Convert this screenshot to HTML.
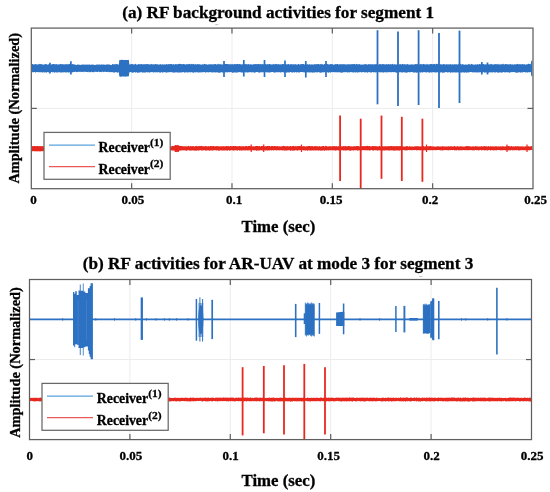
<!DOCTYPE html>
<html><head><meta charset="utf-8"><title>RF activities</title>
<style>
html,body{margin:0;padding:0;background:#fff;}
body{width:550px;height:492px;overflow:hidden;}
svg{display:block;}
svg text{font-family:'Liberation Serif', 'Times New Roman', serif;font-weight:bold;fill:#000;stroke:#000;stroke-width:0.3px;}
</style></head><body>
<svg width="550" height="492" viewBox="0 0 550 492">
<rect width="550" height="492" fill="#fff"/>
<line x1="131.64" y1="28.1" x2="131.64" y2="188.7" stroke="#ececec" stroke-width="1"/>
<line x1="231.98" y1="28.1" x2="231.98" y2="188.7" stroke="#ececec" stroke-width="1"/>
<line x1="332.32" y1="28.1" x2="332.32" y2="188.7" stroke="#ececec" stroke-width="1"/>
<line x1="432.66" y1="28.1" x2="432.66" y2="188.7" stroke="#ececec" stroke-width="1"/>
<line x1="31.3" y1="108.4" x2="533" y2="108.4" stroke="#ececec" stroke-width="1"/>
<polygon fill="#2d71c2" points="31.8,64.14 32.3,63.89 32.8,64 33.3,64.5 33.8,64.43 34.3,63.91 34.8,64.7 35.3,63.96 35.8,63.98 36.3,64.28 36.8,64.43 37.3,64.45 37.8,64.47 38.3,64.3 38.8,64.25 39.3,64.2 39.8,63.8 40.3,63.99 40.8,64.14 41.3,63.81 41.8,64.51 42.3,64.56 42.8,64.15 43.3,64.66 43.8,64.67 44.3,64.24 44.8,64.28 45.3,63.87 45.8,64.13 46.3,64.24 46.8,64.25 47.3,64.48 47.8,64.69 48.3,64.53 48.8,64.08 49.3,64.52 49.8,64.37 50.3,64.7 50.8,63.95 51.3,64.56 51.8,64.46 52.3,63.91 52.8,64.24 53.3,63.94 53.8,64.12 54.3,64.03 54.8,64.62 55.3,64.21 55.8,64.24 56.3,63.92 56.8,64.37 57.3,64.16 57.8,64.65 58.3,64.35 58.8,64.41 59.3,64.56 59.8,63.97 60.3,64.36 60.8,63.82 61.3,64.17 61.8,64.16 62.3,64.13 62.8,64.09 63.3,64.56 63.8,64.3 64.3,64.48 64.8,64.34 65.3,64.61 65.8,63.83 66.3,64.51 66.8,64.1 67.3,64.43 67.8,63.91 68.3,64.1 68.8,64.58 69.3,63.94 69.8,63.85 70.3,63.89 70.8,64.19 71.3,64.57 71.8,64.53 72.3,63.86 72.8,64.2 73.3,64.54 73.8,63.9 74.3,64.52 74.8,64.59 75.3,64.76 75.8,64.73 76.3,64.88 76.8,65.07 77.3,64.31 77.8,64.68 78.3,64.61 78.8,64.81 79.3,64.42 79.8,65.08 80.3,64.77 80.8,65.07 81.3,64.99 81.8,64.23 82.3,64.51 82.8,64.71 83.3,64.63 83.8,64.31 84.3,64.79 84.8,64.57 85.3,64.48 85.8,64.78 86.3,64.63 86.8,64.41 87.3,64.28 87.8,64.96 88.3,64.26 88.8,65.1 89.3,64.42 89.8,64.37 90.3,64.98 90.8,64.72 91.3,64.37 91.8,65.09 92.3,64.53 92.8,64.39 93.3,64.64 93.8,64.45 94.3,64.9 94.8,64.92 95.3,64.77 95.8,64.94 96.3,64.79 96.8,64.25 97.3,64.58 97.8,64.79 98.3,64.86 98.8,64.24 99.3,64.7 99.8,64.22 100.3,64.64 100.8,64.63 101.3,64.29 101.8,64.43 102.3,64.58 102.8,64.72 103.3,64.31 103.8,64.73 104.3,64.27 104.8,65.04 105.3,64.71 105.8,64.63 106.3,64.24 106.8,64.87 107.3,64.37 107.8,64.49 108.3,64.45 108.8,64.53 109.3,64.23 109.8,64.8 110.3,64.74 110.8,64.92 111.3,65.05 111.8,64.91 112.3,63.88 112.8,63.94 113.3,64.6 113.8,64.16 114.3,64.27 114.8,64.16 115.3,64.11 115.8,64.42 116.3,63.83 116.8,64.28 117.3,64.13 117.8,64.13 118.3,64.53 118.8,64.64 119.3,59.94 119.8,59.91 120.3,60.02 120.8,59.98 121.3,59.8 121.8,59.66 122.3,59.72 122.8,60.07 123.3,59.98 123.8,60.08 124.3,59.63 124.8,60.14 125.3,59.83 125.8,60.16 126.3,59.96 126.8,59.93 127.3,60.09 127.8,59.98 128.3,60 128.8,59.69 129.3,64.09 129.8,64.68 130.3,64.42 130.8,63.86 131.3,64.22 131.8,63.97 132.3,64.11 132.8,64.15 133.3,64.53 133.8,64.18 134.3,64.66 134.8,63.98 135.3,63.84 135.8,63.93 136.3,64.65 136.8,64.4 137.3,64.41 137.8,64.6 138.3,64.14 138.8,63.98 139.3,64.42 139.8,63.92 140.3,63.98 140.8,64.58 141.3,64.01 141.8,63.91 142.3,64.52 142.8,64.18 143.3,64.13 143.8,64.15 144.3,64.61 144.8,64.1 145.3,64.13 145.8,63.96 146.3,63.98 146.8,64.41 147.3,64.05 147.8,63.92 148.3,63.9 148.8,64.55 149.3,64.68 149.8,64.11 150.3,64.51 150.8,64.19 151.3,63.85 151.8,64.36 152.3,64.47 152.8,64.29 153.3,64.11 153.8,64.61 154.3,64.36 154.8,64.58 155.3,64.1 155.8,63.95 156.3,64.36 156.8,64.37 157.3,64.21 157.8,64.51 158.3,64.48 158.8,64.4 159.3,64.29 159.8,64.63 160.3,64.02 160.8,64.18 161.3,64.43 161.8,64.63 162.3,64.01 162.8,64.58 163.3,64.58 163.8,64.58 164.3,64.63 164.8,63.88 165.3,64.46 165.8,64.42 166.3,63.95 166.8,64.14 167.3,64.53 167.8,64.31 168.3,63.9 168.8,64.36 169.3,64.06 169.8,64.61 170.3,64.05 170.8,64 171.3,63.96 171.8,64.09 172.3,64.37 172.8,64.64 173.3,64.23 173.8,64.02 174.3,64.53 174.8,64.46 175.3,64.22 175.8,64.03 176.3,63.89 176.8,64.59 177.3,64.53 177.8,63.98 178.3,64.12 178.8,64.05 179.3,63.8 179.8,63.85 180.3,63.94 180.8,64 181.3,64.34 181.8,64.12 182.3,64.53 182.8,64.02 183.3,64.02 183.8,64.05 184.3,64.3 184.8,64.36 185.3,64.32 185.8,64.67 186.3,63.94 186.8,64.21 187.3,64.35 187.8,64.21 188.3,64.05 188.8,64.36 189.3,63.95 189.8,63.87 190.3,64.35 190.8,64.58 191.3,64.02 191.8,63.81 192.3,64.57 192.8,64.06 193.3,63.96 193.8,63.87 194.3,64.59 194.8,64.62 195.3,63.81 195.8,64.59 196.3,64.54 196.8,64.18 197.3,64.3 197.8,64.02 198.3,64.53 198.8,63.88 199.3,64.5 199.8,64.01 200.3,64.64 200.8,64.27 201.3,64.67 201.8,64.42 202.3,64.42 202.8,64.05 203.3,64.29 203.8,64.65 204.3,63.8 204.8,63.9 205.3,63.88 205.8,64.48 206.3,64.35 206.8,64.5 207.3,64.59 207.8,64.67 208.3,64.25 208.8,64.59 209.3,64.54 209.8,63.93 210.3,64.26 210.8,64.53 211.3,64.1 211.8,64.46 212.3,64.23 212.8,64.45 213.3,64.24 213.8,64.13 214.3,64.22 214.8,64.34 215.3,63.99 215.8,63.91 216.3,64.54 216.8,64.58 217.3,64.6 217.8,63.82 218.3,63.85 218.8,64.49 219.3,63.83 219.8,64.51 220.3,64.24 220.8,64.25 221.3,63.88 221.8,64.66 222.3,64.42 222.8,64.16 223.3,64.64 223.8,64.49 224.3,64.28 224.8,63.91 225.3,64.02 225.8,63.95 226.3,64.02 226.8,64.06 227.3,63.94 227.8,64.09 228.3,64.04 228.8,64.43 229.3,64.55 229.8,64.02 230.3,64.55 230.8,63.87 231.3,64.16 231.8,64.4 232.3,63.86 232.8,64.56 233.3,64.24 233.8,64.62 234.3,63.83 234.8,64.18 235.3,63.98 235.8,64.45 236.3,63.98 236.8,64.07 237.3,64.12 237.8,63.84 238.3,64.31 238.8,64.33 239.3,64.08 239.8,63.95 240.3,64.4 240.8,64.1 241.3,64.51 241.8,64.2 242.3,64.01 242.8,64.64 243.3,64.04 243.8,64.69 244.3,63.84 244.8,64.28 245.3,64.33 245.8,64.05 246.3,64.23 246.8,64.04 247.3,64.62 247.8,64.19 248.3,64.2 248.8,63.86 249.3,64.66 249.8,64.29 250.3,64.13 250.8,64.2 251.3,64.63 251.8,64.17 252.3,64.5 252.8,64.52 253.3,63.91 253.8,64.52 254.3,64.29 254.8,64.02 255.3,64.06 255.8,64.2 256.3,63.97 256.8,64.28 257.3,64.14 257.8,63.96 258.3,64.09 258.8,64.12 259.3,64.33 259.8,64.2 260.3,64.34 260.8,64.03 261.3,64.36 261.8,64.28 262.3,64.02 262.8,64.25 263.3,64.4 263.8,63.96 264.3,64.36 264.8,63.94 265.3,63.99 265.8,64.3 266.3,64.06 266.8,64.67 267.3,64.35 267.8,63.93 268.3,64.18 268.8,64.2 269.3,64.1 269.8,64.09 270.3,64.17 270.8,64.32 271.3,64.53 271.8,64.44 272.3,64.44 272.8,64.31 273.3,63.8 273.8,64.38 274.3,64.3 274.8,64.37 275.3,64.18 275.8,63.85 276.3,63.9 276.8,64.36 277.3,64.46 277.8,63.9 278.3,64.26 278.8,64.08 279.3,64.63 279.8,63.92 280.3,64.42 280.8,64.25 281.3,64.52 281.8,64.32 282.3,63.95 282.8,63.96 283.3,64.27 283.8,64.01 284.3,64.29 284.8,64.36 285.3,64.21 285.8,64.52 286.3,64.42 286.8,64.06 287.3,64.01 287.8,64.65 288.3,64.04 288.8,63.96 289.3,64.3 289.8,64.64 290.3,64.09 290.8,64.48 291.3,64.12 291.8,64.36 292.3,64.13 292.8,64.47 293.3,64.27 293.8,64.23 294.3,64.13 294.8,64.52 295.3,63.83 295.8,64.44 296.3,64.42 296.8,64.47 297.3,64.64 297.8,64.32 298.3,64.01 298.8,64.06 299.3,64.52 299.8,64.58 300.3,64.41 300.8,64.01 301.3,64.26 301.8,63.87 302.3,64.11 302.8,64.14 303.3,64.01 303.8,64.02 304.3,64.39 304.8,64.47 305.3,64.31 305.8,64.26 306.3,64.57 306.8,64.3 307.3,64.12 307.8,64.58 308.3,64.58 308.8,64.54 309.3,64.45 309.8,63.83 310.3,64.68 310.8,64.53 311.3,64.55 311.8,64.27 312.3,64.69 312.8,64.29 313.3,64.55 313.8,64.46 314.3,63.99 314.8,64.53 315.3,64.14 315.8,64.33 316.3,64.32 316.8,63.96 317.3,64.56 317.8,63.87 318.3,63.9 318.8,64.1 319.3,64.66 319.8,64.1 320.3,64.16 320.8,64.01 321.3,64.51 321.8,63.84 322.3,63.9 322.8,64.6 323.3,64.42 323.8,64.67 324.3,63.95 324.8,63.88 325.3,63.81 325.8,64.15 326.3,64.1 326.8,64.09 327.3,64.19 327.8,63.84 328.3,64.15 328.8,64.4 329.3,64.24 329.8,64.68 330.3,64.05 330.8,64.08 331.3,64.32 331.8,63.93 332.3,64.02 332.8,64.4 333.3,64.63 333.8,64.58 334.3,64.53 334.8,64.43 335.3,64.3 335.8,63.86 336.3,64.45 336.8,63.89 337.3,64.09 337.8,63.93 338.3,64.34 338.8,64.7 339.3,63.99 339.8,64.48 340.3,64.57 340.8,63.98 341.3,64.08 341.8,64.51 342.3,64.46 342.8,63.85 343.3,64.46 343.8,64.07 344.3,64.58 344.8,63.97 345.3,64.59 345.8,64.24 346.3,64.67 346.8,64.2 347.3,63.94 347.8,64.62 348.3,64.45 348.8,64.01 349.3,64.15 349.8,64.42 350.3,64.13 350.8,64.29 351.3,63.92 351.8,64.44 352.3,64.02 352.8,64.13 353.3,64.03 353.8,64.36 354.3,64.05 354.8,64.07 355.3,64.35 355.8,64.68 356.3,63.83 356.8,64.06 357.3,64.52 357.8,64.04 358.3,64.45 358.8,64.28 359.3,63.93 359.8,64.3 360.3,64.44 360.8,64.43 361.3,64.63 361.8,64.5 362.3,64.46 362.8,64.54 363.3,64.64 363.8,64.28 364.3,64.51 364.8,64.04 365.3,63.87 365.8,64.45 366.3,64.18 366.8,64.24 367.3,64.63 367.8,64.59 368.3,63.9 368.8,64.27 369.3,63.98 369.8,64.64 370.3,64.16 370.8,63.92 371.3,63.92 371.8,64.69 372.3,64.23 372.8,64.37 373.3,64.02 373.8,64.63 374.3,64.46 374.8,63.97 375.3,64.28 375.8,64.29 376.3,63.83 376.8,64.41 377.3,64.66 377.8,64.35 378.3,64.56 378.8,64.63 379.3,64.19 379.8,63.84 380.3,64.18 380.8,64.12 381.3,64.41 381.8,64.19 382.3,64.02 382.8,64.17 383.3,63.98 383.8,64.2 384.3,64.52 384.8,64.18 385.3,64.26 385.8,64.55 386.3,64.14 386.8,63.96 387.3,64.58 387.8,64.21 388.3,64.04 388.8,64.34 389.3,64.46 389.8,64.36 390.3,64.21 390.8,64.08 391.3,64.2 391.8,64.6 392.3,63.96 392.8,63.87 393.3,64.61 393.8,64.48 394.3,64.54 394.8,63.94 395.3,63.88 395.8,64.66 396.3,64.4 396.8,64.53 397.3,64.28 397.8,63.87 398.3,64.64 398.8,64.55 399.3,64.26 399.8,64.23 400.3,64.03 400.8,64.31 401.3,64.57 401.8,64.38 402.3,63.82 402.8,64.02 403.3,64.6 403.8,63.97 404.3,64.42 404.8,64 405.3,64.69 405.8,63.92 406.3,64.55 406.8,64.29 407.3,64.1 407.8,64.24 408.3,64.55 408.8,64.57 409.3,64.44 409.8,64.65 410.3,64.51 410.8,64.58 411.3,64.28 411.8,64.38 412.3,64.17 412.8,64.45 413.3,64.67 413.8,64.4 414.3,64.02 414.8,64.47 415.3,64.34 415.8,64.02 416.3,64.33 416.8,63.9 417.3,63.87 417.8,64.42 418.3,64.04 418.8,64.47 419.3,64.57 419.8,64.31 420.3,64.16 420.8,63.86 421.3,64.57 421.8,64.06 422.3,64.27 422.8,64.58 423.3,63.82 423.8,64.07 424.3,64.58 424.8,63.88 425.3,64.61 425.8,64.62 426.3,64.4 426.8,63.86 427.3,64.67 427.8,63.87 428.3,64.15 428.8,64.64 429.3,64.19 429.8,64.29 430.3,64.19 430.8,64.04 431.3,64.09 431.8,63.8 432.3,64.56 432.8,63.97 433.3,64.33 433.8,64 434.3,63.9 434.8,63.81 435.3,64.46 435.8,64.29 436.3,63.85 436.8,63.85 437.3,64.36 437.8,63.85 438.3,64.33 438.8,64.36 439.3,64.02 439.8,64.28 440.3,64.3 440.8,64.35 441.3,64.31 441.8,64.57 442.3,64.65 442.8,64.02 443.3,64.19 443.8,64.1 444.3,63.98 444.8,64.49 445.3,64.49 445.8,64.45 446.3,64.43 446.8,64.02 447.3,64.36 447.8,64.41 448.3,64.13 448.8,64.53 449.3,64.6 449.8,64.07 450.3,64.02 450.8,64.43 451.3,64.13 451.8,64.67 452.3,64.34 452.8,64.18 453.3,64.47 453.8,64.39 454.3,64.15 454.8,64.17 455.3,64.56 455.8,64.06 456.3,64.63 456.8,63.83 457.3,64.52 457.8,64.47 458.3,64.52 458.8,63.81 459.3,64.44 459.8,64.16 460.3,63.81 460.8,63.84 461.3,64.66 461.8,64.23 462.3,64.16 462.8,64.07 463.3,64.4 463.8,64.4 464.3,64.7 464.8,64.67 465.3,64.2 465.8,64.63 466.3,64.52 466.8,64.4 467.3,64.64 467.8,64.67 468.3,63.87 468.8,64.31 469.3,64.52 469.8,64.06 470.3,64.69 470.8,64.48 471.3,63.84 471.8,63.89 472.3,64.13 472.8,64.62 473.3,64.41 473.8,64.67 474.3,64.5 474.8,64.68 475.3,64.59 475.8,64.13 476.3,64.61 476.8,64.56 477.3,63.89 477.8,64.4 478.3,64.4 478.8,64.62 479.3,63.98 479.8,64.09 480.3,64.21 480.8,64.14 481.3,64.61 481.8,64.47 482.3,64.17 482.8,63.84 483.3,63.96 483.8,64.12 484.3,64.23 484.8,64.69 485.3,63.9 485.8,64.64 486.3,64.58 486.8,64.08 487.3,63.97 487.8,63.99 488.3,64.29 488.8,64.54 489.3,64.67 489.8,63.93 490.3,63.82 490.8,64.48 491.3,63.92 491.8,64.34 492.3,64.42 492.8,64.25 493.3,64.69 493.8,64.3 494.3,64.52 494.8,64.06 495.3,64.25 495.8,63.92 496.3,63.89 496.8,64.41 497.3,64.45 497.8,63.85 498.3,64.25 498.8,64.61 499.3,64.66 499.8,63.81 500.3,64.18 500.8,64.65 501.3,64.24 501.8,64.25 502.3,64.31 502.8,63.84 503.3,63.85 503.8,64.59 504.3,64.56 504.8,64.33 505.3,63.95 505.8,64.14 506.3,64.04 506.8,64.18 507.3,64.51 507.8,63.96 508.3,64.69 508.8,64.07 509.3,64.53 509.8,64.28 510.3,63.82 510.8,64.21 511.3,64.65 511.8,64.31 512.3,64.11 512.8,64.65 513.3,64.47 513.8,64.68 514.3,64.21 514.8,64.36 515.3,64.25 515.8,64.43 516.3,64.11 516.8,64.54 517.3,63.88 517.8,63.84 518.3,64.26 518.8,64.28 519.3,63.93 519.8,64.44 520.3,63.98 520.8,64.44 521.3,64.05 521.8,64.4 522.3,64.16 522.8,63.87 523.3,64.65 523.8,63.97 524.3,64.21 524.8,64.36 525.3,64.38 525.8,64.64 526.3,64.47 526.8,64.14 527.3,64.61 527.8,64.1 528.3,63.83 528.8,63.82 529.3,63.9 529.8,63.97 530.3,64.54 530.8,63.83 531.3,60.72 531.8,60.64 532.3,60.61 532.3,76.4 531.8,75.89 531.3,76.21 530.8,72.11 530.3,71.96 529.8,72.01 529.3,72.67 528.8,72.1 528.3,72.24 527.8,72.6 527.3,72.53 526.8,72.42 526.3,72.17 525.8,71.92 525.3,72.75 524.8,72.13 524.3,72.06 523.8,72.11 523.3,71.92 522.8,72.65 522.3,72.18 521.8,72.61 521.3,72.36 520.8,72.44 520.3,72.78 519.8,72.37 519.3,72.16 518.8,72.62 518.3,72.3 517.8,72.71 517.3,72.47 516.8,72.7 516.3,72.78 515.8,72.49 515.3,72.53 514.8,72.32 514.3,71.96 513.8,72.24 513.3,72.05 512.8,72.11 512.3,72.35 511.8,72.06 511.3,72.3 510.8,72.23 510.3,72.35 509.8,72.68 509.3,72.72 508.8,72.62 508.3,72.13 507.8,72.03 507.3,72.57 506.8,72.58 506.3,72.03 505.8,72.35 505.3,72.43 504.8,72.17 504.3,72.59 503.8,72.05 503.3,72.01 502.8,72.72 502.3,72.33 501.8,72.71 501.3,72.6 500.8,72.25 500.3,72.47 499.8,72.57 499.3,72.13 498.8,72.69 498.3,72.69 497.8,72.49 497.3,72.4 496.8,72.17 496.3,72.12 495.8,72.64 495.3,72.14 494.8,72.67 494.3,72.34 493.8,72.16 493.3,71.93 492.8,72.64 492.3,72.32 491.8,72.17 491.3,72.58 490.8,72.32 490.3,72.59 489.8,71.96 489.3,72.73 488.8,72.56 488.3,72.64 487.8,72.71 487.3,72.4 486.8,72.41 486.3,72.25 485.8,72.44 485.3,72.48 484.8,72.73 484.3,72.57 483.8,72.37 483.3,71.98 482.8,72.72 482.3,72.47 481.8,72.63 481.3,72.58 480.8,72.12 480.3,72.35 479.8,72.77 479.3,71.98 478.8,72.52 478.3,72.37 477.8,72.14 477.3,72.71 476.8,72.4 476.3,72.28 475.8,72.44 475.3,72.32 474.8,72.58 474.3,72.22 473.8,72.16 473.3,72.41 472.8,72.28 472.3,72.59 471.8,72 471.3,72.2 470.8,72.11 470.3,71.91 469.8,72.2 469.3,72.27 468.8,72.22 468.3,72.69 467.8,72.61 467.3,72.14 466.8,72.72 466.3,72.52 465.8,72.64 465.3,71.94 464.8,72.38 464.3,72.64 463.8,72.54 463.3,72.29 462.8,72.64 462.3,72.01 461.8,72.38 461.3,72.75 460.8,71.93 460.3,72.77 459.8,72.79 459.3,72 458.8,72.38 458.3,72.45 457.8,72.38 457.3,72.2 456.8,72.48 456.3,72.57 455.8,72.25 455.3,72.71 454.8,72.32 454.3,72.6 453.8,72.62 453.3,72.22 452.8,72.65 452.3,72.32 451.8,72.2 451.3,72.56 450.8,72.7 450.3,72.65 449.8,72.16 449.3,72.12 448.8,72.75 448.3,71.92 447.8,72.6 447.3,72.55 446.8,72.3 446.3,71.98 445.8,72.09 445.3,72.37 444.8,72.15 444.3,72.78 443.8,72.54 443.3,72.78 442.8,72.65 442.3,72.63 441.8,72.56 441.3,72 440.8,72.63 440.3,72.17 439.8,72.75 439.3,72.42 438.8,72.21 438.3,72.77 437.8,72.21 437.3,72.15 436.8,72.34 436.3,72.52 435.8,72.22 435.3,72.7 434.8,72.71 434.3,72.06 433.8,72.16 433.3,72.12 432.8,72.25 432.3,72.18 431.8,72.52 431.3,72.4 430.8,72.43 430.3,72.03 429.8,72.65 429.3,72.74 428.8,71.99 428.3,72.64 427.8,72.17 427.3,71.91 426.8,72.77 426.3,72.31 425.8,72.1 425.3,72.79 424.8,72.21 424.3,71.94 423.8,72.08 423.3,72.21 422.8,72.73 422.3,72.18 421.8,72.41 421.3,72.11 420.8,72.5 420.3,72.68 419.8,71.98 419.3,72.21 418.8,72.75 418.3,72.71 417.8,72.22 417.3,72.46 416.8,72.74 416.3,72.66 415.8,72.19 415.3,72.62 414.8,72.66 414.3,72.23 413.8,72.52 413.3,72.71 412.8,71.97 412.3,72.35 411.8,71.91 411.3,72.08 410.8,72.19 410.3,71.91 409.8,72.76 409.3,71.96 408.8,72.31 408.3,71.93 407.8,72.11 407.3,72.64 406.8,72.71 406.3,72.75 405.8,72.7 405.3,72.25 404.8,71.99 404.3,72.7 403.8,71.98 403.3,72.44 402.8,72.27 402.3,72.74 401.8,72.15 401.3,72.43 400.8,72.5 400.3,72.08 399.8,71.96 399.3,72.76 398.8,72.12 398.3,72.27 397.8,72.31 397.3,72.29 396.8,72.67 396.3,72.77 395.8,72.51 395.3,72.35 394.8,72.24 394.3,72.12 393.8,72.18 393.3,72.37 392.8,72.08 392.3,72 391.8,72.6 391.3,72.12 390.8,72.14 390.3,72.17 389.8,72.04 389.3,72.27 388.8,72.31 388.3,72.34 387.8,72.35 387.3,72.32 386.8,72.6 386.3,72.33 385.8,72.35 385.3,72.43 384.8,71.98 384.3,72.13 383.8,72.65 383.3,72.56 382.8,72.08 382.3,72.69 381.8,72.05 381.3,72.53 380.8,72.08 380.3,72.66 379.8,72.04 379.3,72.48 378.8,72.27 378.3,71.94 377.8,72.1 377.3,72.79 376.8,72.16 376.3,72.14 375.8,71.92 375.3,72.66 374.8,72.3 374.3,72.25 373.8,72.53 373.3,72.36 372.8,72.11 372.3,71.92 371.8,72.51 371.3,72.58 370.8,72.6 370.3,72.5 369.8,72.05 369.3,72.24 368.8,72.28 368.3,72.07 367.8,72.74 367.3,72.71 366.8,71.95 366.3,72.22 365.8,72.38 365.3,72.16 364.8,72.78 364.3,71.91 363.8,72.08 363.3,72.31 362.8,71.93 362.3,72.29 361.8,72.6 361.3,72.23 360.8,72.14 360.3,72.12 359.8,72.37 359.3,72.37 358.8,72.29 358.3,72.15 357.8,72.42 357.3,72.75 356.8,71.96 356.3,72.55 355.8,72.56 355.3,72.54 354.8,72.12 354.3,72.52 353.8,72.38 353.3,72.49 352.8,72.21 352.3,72.38 351.8,72.05 351.3,72.32 350.8,72.14 350.3,72.07 349.8,71.93 349.3,72.65 348.8,72.48 348.3,72.02 347.8,72.6 347.3,72.57 346.8,72.49 346.3,71.92 345.8,72.26 345.3,72.01 344.8,72.13 344.3,72.13 343.8,72.53 343.3,72.04 342.8,72.55 342.3,72.5 341.8,72.63 341.3,72.66 340.8,72.58 340.3,72.54 339.8,72.31 339.3,72.36 338.8,72.62 338.3,72.08 337.8,72.35 337.3,72.46 336.8,72.24 336.3,72.2 335.8,72.25 335.3,72.16 334.8,72.3 334.3,72.27 333.8,71.95 333.3,72.2 332.8,72.24 332.3,72.09 331.8,72.04 331.3,72.36 330.8,72.58 330.3,72.69 329.8,72.1 329.3,72.4 328.8,72.47 328.3,72.67 327.8,72.71 327.3,72.11 326.8,71.91 326.3,72.55 325.8,72.19 325.3,72.18 324.8,71.97 324.3,72.15 323.8,72.65 323.3,71.9 322.8,72.24 322.3,72.14 321.8,72.51 321.3,72.56 320.8,72.77 320.3,72.75 319.8,72.76 319.3,72.32 318.8,72.25 318.3,72.05 317.8,72.03 317.3,72.65 316.8,72.59 316.3,72.2 315.8,72.33 315.3,72.14 314.8,72.32 314.3,72.66 313.8,72.34 313.3,72.68 312.8,72.62 312.3,72.67 311.8,72.49 311.3,72.17 310.8,72.7 310.3,71.92 309.8,72.19 309.3,72.64 308.8,72.67 308.3,72.1 307.8,72.39 307.3,72.14 306.8,72.3 306.3,72.38 305.8,72.63 305.3,71.99 304.8,71.92 304.3,72.64 303.8,72.23 303.3,72.19 302.8,72.27 302.3,72.08 301.8,72.07 301.3,71.96 300.8,72.11 300.3,71.97 299.8,72.38 299.3,72.55 298.8,72.32 298.3,72.77 297.8,72.07 297.3,72.31 296.8,72.52 296.3,72.47 295.8,72.26 295.3,71.96 294.8,72.5 294.3,72.62 293.8,72.23 293.3,71.96 292.8,72.79 292.3,72.46 291.8,72.67 291.3,72.02 290.8,71.9 290.3,72.07 289.8,72.21 289.3,72.68 288.8,72.47 288.3,72.22 287.8,72.21 287.3,72.44 286.8,72.73 286.3,72.62 285.8,72.17 285.3,71.93 284.8,72.51 284.3,72.79 283.8,72.58 283.3,72.15 282.8,72.18 282.3,72.06 281.8,71.99 281.3,72.55 280.8,72.48 280.3,72.51 279.8,72.33 279.3,72.15 278.8,71.97 278.3,72.59 277.8,72.28 277.3,72.16 276.8,72.3 276.3,72.25 275.8,72.18 275.3,72.53 274.8,72.67 274.3,72.57 273.8,72.76 273.3,72.12 272.8,72.08 272.3,71.99 271.8,72.11 271.3,72.35 270.8,71.96 270.3,72.62 269.8,72.79 269.3,72.51 268.8,72.31 268.3,72.38 267.8,72.34 267.3,72.6 266.8,72.13 266.3,72.54 265.8,71.91 265.3,72.32 264.8,72.49 264.3,71.99 263.8,72.07 263.3,72.2 262.8,72.75 262.3,71.94 261.8,72.04 261.3,72.4 260.8,72.03 260.3,72.55 259.8,72.79 259.3,72.38 258.8,72.73 258.3,72.27 257.8,72.21 257.3,71.99 256.8,72 256.3,72.08 255.8,72.29 255.3,72.48 254.8,72.67 254.3,72.77 253.8,72.02 253.3,72.75 252.8,72.11 252.3,72.2 251.8,72.79 251.3,72.17 250.8,72.18 250.3,72.08 249.8,72.36 249.3,72.22 248.8,72.3 248.3,72.62 247.8,72.36 247.3,72.68 246.8,72.58 246.3,71.98 245.8,72.76 245.3,72.25 244.8,71.98 244.3,72.36 243.8,72.1 243.3,72.79 242.8,72.51 242.3,72.51 241.8,72.67 241.3,72.28 240.8,72.23 240.3,72.34 239.8,72.04 239.3,72.19 238.8,72.2 238.3,72.37 237.8,72.51 237.3,72.17 236.8,72.65 236.3,72.53 235.8,72.57 235.3,72.56 234.8,72.64 234.3,72.07 233.8,72.48 233.3,72.66 232.8,72.75 232.3,72.64 231.8,72.62 231.3,72.11 230.8,72.32 230.3,71.98 229.8,72.07 229.3,72.57 228.8,72.26 228.3,72.07 227.8,72.32 227.3,72.51 226.8,72.49 226.3,72.11 225.8,72.62 225.3,72.3 224.8,72.53 224.3,71.92 223.8,72.26 223.3,72.17 222.8,72.73 222.3,72.46 221.8,72.23 221.3,72.1 220.8,72.48 220.3,72.57 219.8,72.79 219.3,72.68 218.8,72.45 218.3,72.79 217.8,72.64 217.3,72.16 216.8,72.02 216.3,72.57 215.8,72.64 215.3,72.16 214.8,72.29 214.3,72.42 213.8,72.03 213.3,72.61 212.8,72.23 212.3,72.79 211.8,72.54 211.3,72.15 210.8,72.19 210.3,72.01 209.8,72.35 209.3,72.23 208.8,72.01 208.3,72.7 207.8,72.01 207.3,72.46 206.8,71.99 206.3,72.22 205.8,72.7 205.3,72.49 204.8,71.97 204.3,72.25 203.8,72.1 203.3,72.35 202.8,71.92 202.3,72.41 201.8,72.31 201.3,72.45 200.8,72.21 200.3,72.51 199.8,72.25 199.3,72.51 198.8,72.47 198.3,72.53 197.8,72.38 197.3,72.34 196.8,72.19 196.3,72.24 195.8,72.53 195.3,72.14 194.8,72.59 194.3,71.95 193.8,72.7 193.3,72.73 192.8,72.46 192.3,72.39 191.8,71.98 191.3,72.23 190.8,72.57 190.3,72.32 189.8,72.55 189.3,72.1 188.8,72.3 188.3,72.46 187.8,72.42 187.3,72.5 186.8,71.98 186.3,72.49 185.8,72.19 185.3,72.5 184.8,72.63 184.3,72.61 183.8,71.96 183.3,72.08 182.8,72.51 182.3,72.36 181.8,72.14 181.3,72.54 180.8,72.19 180.3,72.68 179.8,72.47 179.3,72.62 178.8,72.5 178.3,72.77 177.8,72.02 177.3,72.76 176.8,72.49 176.3,72.3 175.8,72.4 175.3,72.22 174.8,72.71 174.3,72.46 173.8,72.21 173.3,72.66 172.8,72.65 172.3,72.16 171.8,72.3 171.3,72.03 170.8,72.12 170.3,72.15 169.8,72.34 169.3,72.23 168.8,72.27 168.3,72.32 167.8,72.54 167.3,72.25 166.8,72.52 166.3,72.79 165.8,72.45 165.3,72.37 164.8,72.31 164.3,72.06 163.8,72.6 163.3,71.92 162.8,72.78 162.3,72.54 161.8,71.97 161.3,72.21 160.8,72.56 160.3,72.74 159.8,72.55 159.3,72.39 158.8,72.27 158.3,72.05 157.8,72.75 157.3,71.95 156.8,72.38 156.3,72.01 155.8,72.71 155.3,72.11 154.8,71.94 154.3,72.45 153.8,72.49 153.3,72.56 152.8,72.35 152.3,71.95 151.8,72.35 151.3,71.98 150.8,71.94 150.3,72.56 149.8,72.5 149.3,72.44 148.8,72.7 148.3,71.91 147.8,72.07 147.3,72.72 146.8,72.01 146.3,72.19 145.8,72.23 145.3,72.72 144.8,72.8 144.3,72.16 143.8,72.75 143.3,72.37 142.8,72.4 142.3,72.8 141.8,72.25 141.3,72.02 140.8,72.55 140.3,71.99 139.8,72.22 139.3,72.66 138.8,72.68 138.3,72.54 137.8,72.77 137.3,72.73 136.8,72.53 136.3,71.95 135.8,72.59 135.3,72.77 134.8,72.25 134.3,71.9 133.8,72.13 133.3,72.74 132.8,72.7 132.3,72.71 131.8,72.16 131.3,72.54 130.8,71.98 130.3,72.09 129.8,71.98 129.3,72.73 128.8,76.46 128.3,76.21 127.8,76.3 127.3,76.78 126.8,76.33 126.3,76.56 125.8,76.67 125.3,76.67 124.8,76.49 124.3,76.61 123.8,76.2 123.3,76.79 122.8,76.73 122.3,76.34 121.8,76.64 121.3,76.51 120.8,76.72 120.3,76.75 119.8,76.59 119.3,76.44 118.8,72.02 118.3,72.17 117.8,72.69 117.3,72.77 116.8,71.96 116.3,72.61 115.8,71.98 115.3,72.36 114.8,72.45 114.3,72.66 113.8,72.17 113.3,72.65 112.8,72.01 112.3,72.15 111.8,72.37 111.3,71.94 110.8,72.23 110.3,71.92 109.8,72.14 109.3,72.3 108.8,72.05 108.3,71.87 107.8,71.8 107.3,72.36 106.8,72.03 106.3,72.02 105.8,71.85 105.3,71.9 104.8,71.55 104.3,72.04 103.8,72.29 103.3,71.92 102.8,71.58 102.3,71.76 101.8,72.09 101.3,72.18 100.8,71.96 100.3,71.99 99.8,72.24 99.3,71.83 98.8,71.67 98.3,71.51 97.8,72.34 97.3,72.07 96.8,72.03 96.3,71.79 95.8,71.74 95.3,71.68 94.8,72.14 94.3,71.55 93.8,72.28 93.3,72.21 92.8,72.3 92.3,72.02 91.8,72.29 91.3,71.59 90.8,72.19 90.3,71.91 89.8,72.39 89.3,72.03 88.8,71.55 88.3,72.27 87.8,72.17 87.3,71.99 86.8,71.77 86.3,71.96 85.8,71.63 85.3,71.9 84.8,72.18 84.3,71.61 83.8,71.57 83.3,72.31 82.8,71.76 82.3,72.2 81.8,71.76 81.3,72.09 80.8,72.28 80.3,71.61 79.8,72.36 79.3,71.83 78.8,71.51 78.3,72.01 77.8,71.8 77.3,72.34 76.8,72.24 76.3,72.04 75.8,71.77 75.3,71.83 74.8,71.67 74.3,71.99 73.8,71.94 73.3,72.35 72.8,71.97 72.3,72.44 71.8,72.8 71.3,71.93 70.8,72.75 70.3,72.74 69.8,72.27 69.3,72.53 68.8,72.18 68.3,72.73 67.8,72.16 67.3,72.32 66.8,72.32 66.3,72.69 65.8,72.36 65.3,72.55 64.8,72.48 64.3,72.06 63.8,72.6 63.3,72.27 62.8,72.28 62.3,72.55 61.8,72.79 61.3,72.13 60.8,72.56 60.3,72.59 59.8,72.41 59.3,72 58.8,72.36 58.3,72.25 57.8,72.68 57.3,72.29 56.8,72.47 56.3,72.39 55.8,72.02 55.3,72.41 54.8,72.62 54.3,72.63 53.8,72 53.3,72.19 52.8,72.43 52.3,72.32 51.8,71.98 51.3,72.09 50.8,72.05 50.3,71.91 49.8,72.76 49.3,72.17 48.8,71.93 48.3,72.79 47.8,72.02 47.3,71.98 46.8,72.51 46.3,72.69 45.8,72.35 45.3,72.25 44.8,72.7 44.3,72.18 43.8,72.55 43.3,72.12 42.8,72.71 42.3,72.32 41.8,72.26 41.3,72.16 40.8,72.5 40.3,72.09 39.8,72.29 39.3,72.28 38.8,72.42 38.3,72.07 37.8,72.02 37.3,72.14 36.8,71.91 36.3,72.03 35.8,72.73 35.3,72.62 34.8,72.02 34.3,72.01 33.8,72.16 33.3,72.37 32.8,72.08 32.3,72.37 31.8,72.46"/>
<line x1="50" y1="62.7" x2="50" y2="73.6" stroke="#2d71c2" stroke-width="1.7"/>
<line x1="70.9" y1="61.3" x2="70.9" y2="74.5" stroke="#2d71c2" stroke-width="1.7"/>
<line x1="224" y1="61" x2="224" y2="77" stroke="#2d71c2" stroke-width="1.7"/>
<line x1="243.8" y1="60" x2="243.8" y2="76.5" stroke="#2d71c2" stroke-width="1.7"/>
<line x1="264.5" y1="60" x2="264.5" y2="77" stroke="#2d71c2" stroke-width="1.7"/>
<line x1="285" y1="60.5" x2="285" y2="77" stroke="#2d71c2" stroke-width="1.7"/>
<line x1="305.8" y1="61" x2="305.8" y2="77.5" stroke="#2d71c2" stroke-width="1.7"/>
<line x1="326" y1="61" x2="326" y2="77" stroke="#2d71c2" stroke-width="1.7"/>
<line x1="481.8" y1="62" x2="481.8" y2="74.5" stroke="#2d71c2" stroke-width="1.7"/>
<line x1="487.5" y1="62.5" x2="487.5" y2="74.5" stroke="#2d71c2" stroke-width="1.7"/>
<line x1="377.5" y1="30.2" x2="377.5" y2="104.3" stroke="#2d71c2" stroke-width="1.8"/>
<line x1="398" y1="31.6" x2="398" y2="106" stroke="#2d71c2" stroke-width="1.8"/>
<line x1="418.6" y1="30.2" x2="418.6" y2="105" stroke="#2d71c2" stroke-width="1.8"/>
<line x1="439" y1="33" x2="439" y2="108" stroke="#2d71c2" stroke-width="1.8"/>
<line x1="459.5" y1="30.6" x2="459.5" y2="103" stroke="#2d71c2" stroke-width="1.8"/>
<polygon fill="#e8281e" points="31.8,145.9 32.3,146.05 32.8,146.25 33.3,146.2 33.8,146.04 34.3,146.03 34.8,145.97 35.3,145.95 35.8,146.2 36.3,146.07 36.8,146.17 37.3,146.1 37.8,146.09 38.3,146.3 38.8,145.91 39.3,146.2 39.8,146.09 40.3,146.04 40.8,146.13 41.3,146.41 41.8,146.04 42.3,146.08 42.8,146.17 43.3,146.21 43.8,146.39 44.3,146.48 44.8,146.09 45.3,146.03 45.8,146.29 46.3,146.28 46.8,146.4 47.3,146.18 47.8,146.14 48.3,145.9 48.8,146.52 49.3,145.91 49.8,145.86 50.3,146.31 50.8,146.04 51.3,145.97 51.8,146.09 52.3,146.35 52.8,146.11 53.3,145.94 53.8,146.48 54.3,146.21 54.8,146.53 55.3,145.96 55.8,146.01 56.3,146.52 56.8,146.03 57.3,146.07 57.8,146.46 58.3,146.18 58.8,146.07 59.3,146.32 59.8,146.2 60.3,145.87 60.8,146.11 61.3,146.2 61.8,146.5 62.3,146.47 62.8,145.95 63.3,146.03 63.8,145.97 64.3,146.15 64.8,146.15 65.3,146.18 65.8,146.04 66.3,146.32 66.8,146.2 67.3,146.22 67.8,146.09 68.3,146.4 68.8,146.53 69.3,146.49 69.8,146.42 70.3,145.95 70.8,146.05 71.3,146.03 71.8,146.24 72.3,146.48 72.8,146.22 73.3,145.95 73.8,146.19 74.3,146.11 74.8,146.29 75.3,146.44 75.8,146.11 76.3,146.21 76.8,146.31 77.3,146.37 77.8,146.06 78.3,146.33 78.8,146.15 79.3,146.37 79.8,146.02 80.3,146.29 80.8,146.22 81.3,145.9 81.8,146.05 82.3,146.03 82.8,146.31 83.3,145.96 83.8,146.28 84.3,145.86 84.8,145.92 85.3,146.09 85.8,145.97 86.3,146.17 86.8,146.04 87.3,146.46 87.8,145.86 88.3,145.99 88.8,146.45 89.3,146.38 89.8,146.15 90.3,146.02 90.8,146.45 91.3,145.88 91.8,146.31 92.3,145.85 92.8,146.02 93.3,146.21 93.8,146.3 94.3,146.48 94.8,146.49 95.3,146.11 95.8,146.01 96.3,145.91 96.8,146.29 97.3,145.89 97.8,146.34 98.3,145.89 98.8,145.91 99.3,146.44 99.8,145.95 100.3,146.06 100.8,146.06 101.3,145.96 101.8,146.17 102.3,146.2 102.8,146.29 103.3,145.94 103.8,145.92 104.3,146.44 104.8,146.01 105.3,146.36 105.8,146.42 106.3,146.41 106.8,146.15 107.3,146.35 107.8,146.38 108.3,146.48 108.8,146.32 109.3,146.01 109.8,146.53 110.3,146.21 110.8,146.13 111.3,146.52 111.8,146.34 112.3,145.92 112.8,145.85 113.3,145.95 113.8,146.43 114.3,146.02 114.8,146.23 115.3,146.43 115.8,146.21 116.3,145.9 116.8,145.94 117.3,146.28 117.8,146.51 118.3,145.92 118.8,145.86 119.3,146.19 119.8,146.39 120.3,146.17 120.8,146.06 121.3,146.21 121.8,146.3 122.3,146.38 122.8,146.34 123.3,146.52 123.8,146.37 124.3,145.88 124.8,146.54 125.3,146.04 125.8,146 126.3,146.27 126.8,146.13 127.3,146.4 127.8,146.08 128.3,146.05 128.8,146.04 129.3,146.21 129.8,145.87 130.3,145.94 130.8,146.15 131.3,146.07 131.8,146.36 132.3,145.89 132.8,146.1 133.3,145.92 133.8,146.35 134.3,145.86 134.8,146.48 135.3,146.18 135.8,146.47 136.3,146.42 136.8,146.02 137.3,146.5 137.8,146.28 138.3,146.42 138.8,145.95 139.3,146.49 139.8,146.31 140.3,145.95 140.8,146.07 141.3,146.06 141.8,145.86 142.3,146.53 142.8,146.08 143.3,146.03 143.8,146.03 144.3,146.05 144.8,146.5 145.3,146.49 145.8,146.01 146.3,146.12 146.8,146.37 147.3,146.54 147.8,146.18 148.3,146.49 148.8,146.03 149.3,146.31 149.8,145.98 150.3,146.48 150.8,146.2 151.3,146.48 151.8,146 152.3,146.16 152.8,146.39 153.3,145.88 153.8,146.07 154.3,146.31 154.8,145.95 155.3,146.28 155.8,145.89 156.3,146.34 156.8,145.86 157.3,146.51 157.8,146.04 158.3,146.35 158.8,146.25 159.3,146.1 159.8,146.52 160.3,146.39 160.8,146.48 161.3,146.03 161.8,146.4 162.3,146.2 162.8,146.32 163.3,146.38 163.8,145.9 164.3,146.19 164.8,146.09 165.3,146.06 165.8,145.98 166.3,146.37 166.8,146.49 167.3,146.22 167.8,146.43 168.3,146.54 168.8,145.91 169.3,146.11 169.8,146.26 170.3,146.45 170.8,146.02 171.3,146.18 171.8,146.43 172.3,145.86 172.8,145.88 173.3,145.9 173.8,145.97 174.3,146.18 174.8,145.2 175.3,145.05 175.8,145.05 176.3,144.93 176.8,145.44 177.3,144.92 177.8,144.98 178.3,145.33 178.8,145.17 179.3,146 179.8,145.97 180.3,146.12 180.8,145.96 181.3,146.09 181.8,145.9 182.3,145.92 182.8,146.52 183.3,146.36 183.8,146.28 184.3,146.37 184.8,146.43 185.3,145.94 185.8,146.53 186.3,146.42 186.8,146.02 187.3,146.39 187.8,146.37 188.3,145.87 188.8,146.02 189.3,146.24 189.8,146.45 190.3,146.36 190.8,145.86 191.3,146 191.8,146.5 192.3,146.06 192.8,146.29 193.3,146.05 193.8,146.34 194.3,146.46 194.8,146.54 195.3,146.34 195.8,145.95 196.3,145.93 196.8,146.07 197.3,146.03 197.8,146.41 198.3,146.3 198.8,145.92 199.3,145.86 199.8,146.24 200.3,146.01 200.8,145.9 201.3,145.85 201.8,146.34 202.3,146.09 202.8,146.28 203.3,146.22 203.8,146.23 204.3,146.36 204.8,146.54 205.3,146.01 205.8,146.06 206.3,145.96 206.8,146.44 207.3,146.38 207.8,146.13 208.3,145.89 208.8,146.22 209.3,146.41 209.8,146.13 210.3,145.88 210.8,145.94 211.3,145.92 211.8,146.26 212.3,146.37 212.8,145.94 213.3,146 213.8,145.95 214.3,146.28 214.8,146.35 215.3,146.38 215.8,145.94 216.3,145.91 216.8,146.29 217.3,145.94 217.8,146.28 218.3,146.24 218.8,146.15 219.3,146.4 219.8,146.36 220.3,146.36 220.8,146.37 221.3,146.19 221.8,146.48 222.3,146 222.8,146.43 223.3,146.24 223.8,146.1 224.3,146.45 224.8,146.26 225.3,146.16 225.8,146.16 226.3,145.93 226.8,146 227.3,146.47 227.8,145.97 228.3,146.17 228.8,146.08 229.3,146.44 229.8,146.22 230.3,146.06 230.8,145.99 231.3,145.99 231.8,146.4 232.3,145.97 232.8,146.15 233.3,146.08 233.8,145.95 234.3,146.27 234.8,145.91 235.3,145.93 235.8,145.98 236.3,146.28 236.8,146.18 237.3,146.43 237.8,146.02 238.3,145.93 238.8,146.44 239.3,146.03 239.8,146.06 240.3,146.52 240.8,145.91 241.3,146.21 241.8,146.36 242.3,146.53 242.8,146 243.3,146.31 243.8,146.19 244.3,146.41 244.8,146.13 245.3,146.27 245.8,145.99 246.3,146.08 246.8,146.04 247.3,146.37 247.8,146.51 248.3,145.93 248.8,145.9 249.3,146.1 249.8,145.9 250.3,146.06 250.8,146.13 251.3,146.26 251.8,146.3 252.3,146.21 252.8,146.39 253.3,146.25 253.8,146.19 254.3,146.53 254.8,146.27 255.3,146.35 255.8,146.11 256.3,145.98 256.8,146.12 257.3,146.09 257.8,146.12 258.3,146.37 258.8,146.29 259.3,145.96 259.8,145.89 260.3,146.42 260.8,146.54 261.3,145.88 261.8,145.95 262.3,146.12 262.8,145.98 263.3,146.13 263.8,145.92 264.3,146.38 264.8,146.24 265.3,146.08 265.8,146.4 266.3,146.05 266.8,146.37 267.3,146.05 267.8,145.99 268.3,146.25 268.8,145.86 269.3,146.11 269.8,146.02 270.3,146.54 270.8,146.47 271.3,146.05 271.8,145.89 272.3,146.11 272.8,145.91 273.3,146.51 273.8,145.93 274.3,145.94 274.8,146.11 275.3,146.25 275.8,146.06 276.3,146.38 276.8,146.08 277.3,146.06 277.8,146.17 278.3,146.37 278.8,146.55 279.3,146.41 279.8,145.97 280.3,146.4 280.8,146.5 281.3,146.38 281.8,146.19 282.3,146.14 282.8,145.94 283.3,145.95 283.8,145.87 284.3,145.93 284.8,146.23 285.3,146.45 285.8,145.88 286.3,146.39 286.8,146.11 287.3,146.36 287.8,145.98 288.3,146.41 288.8,146.26 289.3,146.4 289.8,145.95 290.3,146.12 290.8,146.11 291.3,146.33 291.8,146.43 292.3,145.95 292.8,146.01 293.3,146.04 293.8,145.85 294.3,146.16 294.8,146.43 295.3,146.12 295.8,146.35 296.3,146.19 296.8,146.23 297.3,146.16 297.8,145.91 298.3,145.98 298.8,146.26 299.3,145.98 299.8,145.95 300.3,146.01 300.8,146.16 301.3,145.92 301.8,146.21 302.3,146.48 302.8,146.36 303.3,146.09 303.8,146.28 304.3,146.25 304.8,146.27 305.3,146.42 305.8,146.48 306.3,146.52 306.8,146.08 307.3,146.32 307.8,146.23 308.3,145.9 308.8,146.11 309.3,145.98 309.8,146.02 310.3,145.88 310.8,146.5 311.3,146.28 311.8,145.89 312.3,146.22 312.8,145.89 313.3,146.42 313.8,146.51 314.3,145.92 314.8,146.26 315.3,146.19 315.8,145.89 316.3,146.4 316.8,145.87 317.3,146.27 317.8,146.38 318.3,146.39 318.8,146.19 319.3,146.22 319.8,145.93 320.3,146.51 320.8,146.52 321.3,146.44 321.8,146.13 322.3,146 322.8,146.21 323.3,146.12 323.8,146.1 324.3,146.54 324.8,146.38 325.3,145.85 325.8,146.32 326.3,145.89 326.8,146.21 327.3,146.39 327.8,146.55 328.3,146.4 328.8,146.32 329.3,146.24 329.8,146.24 330.3,146.17 330.8,146.22 331.3,146.53 331.8,146.36 332.3,145.88 332.8,146.53 333.3,146.04 333.8,146.22 334.3,146.06 334.8,146.32 335.3,146.29 335.8,146.19 336.3,145.91 336.8,146.32 337.3,146.49 337.8,146.52 338.3,145.93 338.8,146.33 339.3,146.47 339.8,146.13 340.3,145.96 340.8,146.13 341.3,146.44 341.8,146.27 342.3,146.36 342.8,146.54 343.3,145.87 343.8,146.23 344.3,146.46 344.8,145.93 345.3,145.86 345.8,145.98 346.3,146.37 346.8,146.42 347.3,146.18 347.8,146.14 348.3,145.94 348.8,145.87 349.3,145.91 349.8,146.31 350.3,146.14 350.8,146.46 351.3,146.19 351.8,146.5 352.3,146.47 352.8,146.46 353.3,146.34 353.8,146.33 354.3,146.06 354.8,146.5 355.3,146.47 355.8,146.09 356.3,146.08 356.8,146.05 357.3,146.05 357.8,146.09 358.3,146.16 358.8,146.03 359.3,146.49 359.8,146.4 360.3,146.03 360.8,146.42 361.3,146.18 361.8,146.37 362.3,146.25 362.8,145.97 363.3,146.09 363.8,146.24 364.3,146.36 364.8,145.99 365.3,146.09 365.8,146.24 366.3,145.94 366.8,146.07 367.3,145.86 367.8,146.08 368.3,145.92 368.8,146.16 369.3,146.05 369.8,145.96 370.3,146.49 370.8,146.22 371.3,146.13 371.8,146.51 372.3,146 372.8,146.05 373.3,145.89 373.8,146.29 374.3,146.22 374.8,145.91 375.3,146.26 375.8,145.97 376.3,146.26 376.8,146.31 377.3,146.36 377.8,146.4 378.3,146.25 378.8,146.44 379.3,145.97 379.8,145.87 380.3,146.48 380.8,146.51 381.3,146.55 381.8,145.9 382.3,146.5 382.8,146.07 383.3,146.34 383.8,146.41 384.3,146.38 384.8,146.07 385.3,146.54 385.8,145.94 386.3,146.15 386.8,146.39 387.3,146.4 387.8,146.09 388.3,146.11 388.8,146.33 389.3,146.32 389.8,146.23 390.3,145.91 390.8,146.17 391.3,145.96 391.8,146.1 392.3,146.16 392.8,146.21 393.3,146.07 393.8,146.21 394.3,146.04 394.8,146.42 395.3,146.32 395.8,145.94 396.3,146.27 396.8,145.96 397.3,145.89 397.8,146.15 398.3,146.48 398.8,146.02 399.3,146.08 399.8,146.35 400.3,146.1 400.8,146.36 401.3,146.66 401.8,146.65 402.3,146.54 402.8,146.27 403.3,146.13 403.8,146.63 404.3,146.68 404.8,146.26 405.3,146.41 405.8,146.39 406.3,146.13 406.8,146.06 407.3,146.02 407.8,146.15 408.3,146.7 408.8,146.59 409.3,146.29 409.8,146.03 410.3,146.64 410.8,146.34 411.3,146.42 411.8,146.42 412.3,146.51 412.8,146.51 413.3,146.53 413.8,146.63 414.3,146.31 414.8,146.39 415.3,146.2 415.8,146.25 416.3,146.03 416.8,146.46 417.3,146.08 417.8,146.43 418.3,146.24 418.8,146.14 419.3,146.42 419.8,146.39 420.3,146.26 420.8,146.62 421.3,146.33 421.8,146.63 422.3,146.54 422.8,146.26 423.3,146.02 423.8,146 424.3,146.52 424.8,146.6 425.3,146.34 425.8,146.39 426.3,146.43 426.8,146.16 427.3,146.2 427.8,146.31 428.3,146.26 428.8,146.29 429.3,146.23 429.8,146.05 430.3,146.04 430.8,146.01 431.3,146.1 431.8,146.63 432.3,146.38 432.8,146.15 433.3,146.49 433.8,146.28 434.3,146.66 434.8,146.56 435.3,146.42 435.8,146.65 436.3,146.4 436.8,146.54 437.3,146.1 437.8,146.48 438.3,146.43 438.8,146.14 439.3,146.31 439.8,146.66 440.3,146.55 440.8,146.27 441.3,146.56 441.8,146.53 442.3,146.26 442.8,146.35 443.3,146.51 443.8,146.31 444.3,146.26 444.8,146.67 445.3,146.51 445.8,146.48 446.3,146.08 446.8,146.66 447.3,146.46 447.8,146.56 448.3,146.21 448.8,146.13 449.3,146.66 449.8,146.1 450.3,146.21 450.8,146.55 451.3,146.06 451.8,146.49 452.3,146.15 452.8,146.65 453.3,146.38 453.8,146.35 454.3,146.07 454.8,146.11 455.3,146.32 455.8,146.66 456.3,146.4 456.8,146.44 457.3,146 457.8,146.22 458.3,146.42 458.8,146.44 459.3,146.16 459.8,146.63 460.3,146.13 460.8,146.23 461.3,146.4 461.8,146.2 462.3,146.42 462.8,146.6 463.3,146.41 463.8,146.66 464.3,146.64 464.8,146.39 465.3,146.12 465.8,146.56 466.3,146.35 466.8,146.01 467.3,146.12 467.8,146.07 468.3,146.23 468.8,146.29 469.3,146.29 469.8,146.28 470.3,146.37 470.8,146.45 471.3,146.53 471.8,146.65 472.3,146.44 472.8,146.16 473.3,146.31 473.8,146.59 474.3,146.13 474.8,146.67 475.3,146.05 475.8,146.24 476.3,146.31 476.8,146.41 477.3,146.12 477.8,146.7 478.3,146.69 478.8,146.34 479.3,146.49 479.8,146.42 480.3,146.32 480.8,146.67 481.3,146.01 481.8,146.23 482.3,146.63 482.8,146.18 483.3,146.33 483.8,146.22 484.3,146.18 484.8,146.01 485.3,146.62 485.8,146 486.3,146.37 486.8,146.56 487.3,146.44 487.8,146.44 488.3,146.07 488.8,146.33 489.3,146.65 489.8,146.2 490.3,146.35 490.8,146.13 491.3,146.67 491.8,146.09 492.3,146.07 492.8,146.69 493.3,146.37 493.8,146.61 494.3,146.33 494.8,146.64 495.3,146.08 495.8,146.57 496.3,146.23 496.8,146.24 497.3,146.48 497.8,146.55 498.3,146.06 498.8,146.67 499.3,146.52 499.8,146.47 500.3,146.29 500.8,146.44 501.3,146.62 501.8,146.3 502.3,146.19 502.8,146.21 503.3,146.36 503.8,146.49 504.3,146.69 504.8,146.33 505.3,146.26 505.8,146.39 506.3,146.03 506.8,146.56 507.3,146.13 507.8,146.2 508.3,146.07 508.8,146.05 509.3,146.53 509.8,146.05 510.3,146.42 510.8,146.22 511.3,146.03 511.8,146.28 512.3,146.29 512.8,146.65 513.3,146.28 513.8,146.53 514.3,146.43 514.8,146.44 515.3,146.02 515.8,146.25 516.3,146.19 516.8,146.58 517.3,146.49 517.8,146.09 518.3,146.62 518.8,146.03 519.3,146.4 519.8,146.43 520.3,146.34 520.8,146.39 521.3,146.37 521.8,146.4 522.3,146.21 522.8,146.51 523.3,146.58 523.8,146.4 524.3,146.64 524.8,146.39 525.3,146.35 525.8,146.15 526.3,146.62 526.8,146.42 527.3,146.15 527.8,146.46 528.3,146.11 528.8,146.2 529.3,146.67 529.8,146.43 530.3,146.16 530.8,146.33 531.3,146.23 531.8,146.01 532.3,146.23 532.3,150.48 531.8,149.91 531.3,150 530.8,150.04 530.3,150.34 529.8,150.29 529.3,150.33 528.8,150.22 528.3,150.31 527.8,150.54 527.3,150.23 526.8,150 526.3,150.21 525.8,150.32 525.3,150.51 524.8,149.93 524.3,150.29 523.8,150.44 523.3,150 522.8,150.13 522.3,149.99 521.8,150.04 521.3,150.29 520.8,150.51 520.3,150.11 519.8,150.58 519.3,150.43 518.8,150.33 518.3,150.48 517.8,150.29 517.3,150.09 516.8,150.44 516.3,150.05 515.8,149.98 515.3,150.15 514.8,150.5 514.3,150.07 513.8,150.06 513.3,150.5 512.8,150.17 512.3,150.42 511.8,150 511.3,150.01 510.8,150.41 510.3,150.24 509.8,150.38 509.3,150.13 508.8,150.13 508.3,150.55 507.8,150.13 507.3,150.31 506.8,150.28 506.3,150.06 505.8,150.47 505.3,150.13 504.8,150.15 504.3,150.04 503.8,150.27 503.3,150.01 502.8,150.37 502.3,150.3 501.8,150.01 501.3,150.57 500.8,150.53 500.3,150.26 499.8,150.07 499.3,150.14 498.8,150.01 498.3,150.07 497.8,150.1 497.3,150.03 496.8,150.16 496.3,150.54 495.8,150.3 495.3,150.16 494.8,149.97 494.3,150.41 493.8,150.56 493.3,150.3 492.8,150.44 492.3,150.05 491.8,150.27 491.3,149.96 490.8,150.47 490.3,150.53 489.8,149.97 489.3,150.09 488.8,150.04 488.3,150.35 487.8,150.42 487.3,150.54 486.8,150.09 486.3,150.53 485.8,150.41 485.3,150.09 484.8,150.59 484.3,150.32 483.8,149.96 483.3,150.15 482.8,150.17 482.3,149.96 481.8,150.56 481.3,150.34 480.8,150.04 480.3,150.12 479.8,150.12 479.3,150.25 478.8,150.53 478.3,150.39 477.8,150.36 477.3,149.97 476.8,150.06 476.3,150.52 475.8,149.91 475.3,149.97 474.8,150.33 474.3,150.51 473.8,150.04 473.3,150.59 472.8,150.39 472.3,150.13 471.8,150.01 471.3,150.15 470.8,150.09 470.3,150.2 469.8,149.9 469.3,150.18 468.8,150.14 468.3,150.15 467.8,150.29 467.3,150.08 466.8,150.51 466.3,149.91 465.8,150.36 465.3,150.29 464.8,150 464.3,150.3 463.8,149.91 463.3,149.92 462.8,149.94 462.3,150.56 461.8,150.45 461.3,149.94 460.8,149.94 460.3,150.52 459.8,150.23 459.3,150.3 458.8,150.59 458.3,150.26 457.8,150.12 457.3,150.26 456.8,150.34 456.3,150.47 455.8,150.31 455.3,150.23 454.8,150.27 454.3,150.46 453.8,149.96 453.3,150.04 452.8,149.95 452.3,150.37 451.8,149.91 451.3,150.08 450.8,150.08 450.3,150.13 449.8,150.31 449.3,150.09 448.8,150.39 448.3,150.36 447.8,149.97 447.3,150.5 446.8,150 446.3,150.28 445.8,149.95 445.3,150.32 444.8,149.92 444.3,150.22 443.8,149.93 443.3,150.31 442.8,150.5 442.3,150.4 441.8,150.28 441.3,150.25 440.8,150.48 440.3,150.21 439.8,150.28 439.3,150.04 438.8,150.02 438.3,150.09 437.8,150.03 437.3,149.95 436.8,150.08 436.3,150.36 435.8,150.15 435.3,150.36 434.8,149.98 434.3,150.29 433.8,149.92 433.3,150.35 432.8,149.93 432.3,150.56 431.8,150.28 431.3,149.95 430.8,150 430.3,150.57 429.8,150.28 429.3,150.16 428.8,150.05 428.3,150.33 427.8,150 427.3,150.17 426.8,150.4 426.3,150.37 425.8,150.07 425.3,150.48 424.8,150.35 424.3,150.15 423.8,150.3 423.3,150.49 422.8,150.45 422.3,150.14 421.8,150.05 421.3,150.07 420.8,150.48 420.3,150.14 419.8,150.24 419.3,150.2 418.8,150.12 418.3,150.25 417.8,150.23 417.3,150.37 416.8,150.2 416.3,150.39 415.8,150.01 415.3,150.03 414.8,150.24 414.3,150.01 413.8,150.08 413.3,150.13 412.8,149.97 412.3,150.29 411.8,150.51 411.3,149.98 410.8,150.23 410.3,150.03 409.8,150.15 409.3,150.15 408.8,150.1 408.3,150.05 407.8,150.15 407.3,150.25 406.8,150.43 406.3,150.51 405.8,150.23 405.3,150.43 404.8,150.18 404.3,150.31 403.8,150.04 403.3,149.96 402.8,150.2 402.3,150.3 401.8,150.04 401.3,149.93 400.8,149.94 400.3,150.59 399.8,150.52 399.3,150.69 398.8,150.54 398.3,150.53 397.8,150.22 397.3,150.72 396.8,150.17 396.3,150.55 395.8,150.67 395.3,150.29 394.8,150.62 394.3,150.71 393.8,150.69 393.3,150.54 392.8,150.4 392.3,150.27 391.8,150.34 391.3,150.48 390.8,150.22 390.3,150.17 389.8,150.72 389.3,150.55 388.8,150.36 388.3,150.47 387.8,150.4 387.3,150.23 386.8,150.23 386.3,150.48 385.8,150.06 385.3,150.75 384.8,150.16 384.3,150.69 383.8,150.59 383.3,150.35 382.8,150.45 382.3,150.65 381.8,150.19 381.3,150.18 380.8,150.38 380.3,150.34 379.8,150.55 379.3,150.24 378.8,150.54 378.3,150.31 377.8,150.38 377.3,150.7 376.8,150.11 376.3,150.58 375.8,150.37 375.3,150.28 374.8,150.3 374.3,150.11 373.8,150.54 373.3,150.64 372.8,150.34 372.3,150.69 371.8,150.12 371.3,150.09 370.8,150.06 370.3,150.7 369.8,150.35 369.3,150.75 368.8,150.08 368.3,150.53 367.8,150.39 367.3,150.28 366.8,150.27 366.3,150.37 365.8,150.27 365.3,150.19 364.8,150.26 364.3,150.14 363.8,150.36 363.3,150.1 362.8,150.11 362.3,150.51 361.8,150.5 361.3,150.28 360.8,150.71 360.3,150.29 359.8,150.72 359.3,150.1 358.8,150.13 358.3,150.46 357.8,150.41 357.3,150.63 356.8,150.35 356.3,150.25 355.8,150.29 355.3,150.25 354.8,150.13 354.3,150.22 353.8,150.74 353.3,150.43 352.8,150.11 352.3,150.59 351.8,150.4 351.3,150.13 350.8,150.66 350.3,150.73 349.8,150.51 349.3,150.64 348.8,150.33 348.3,150.34 347.8,150.61 347.3,150.12 346.8,150.71 346.3,150.29 345.8,150.5 345.3,150.62 344.8,150.55 344.3,150.34 343.8,150.41 343.3,150.47 342.8,150.25 342.3,150.32 341.8,150.34 341.3,150.25 340.8,150.37 340.3,150.49 339.8,150.36 339.3,150.29 338.8,150.48 338.3,150.42 337.8,150.29 337.3,150.19 336.8,150.72 336.3,150.07 335.8,150.45 335.3,150.68 334.8,150.52 334.3,150.26 333.8,150.46 333.3,150.23 332.8,150.14 332.3,150.28 331.8,150.14 331.3,150.34 330.8,150.26 330.3,150.6 329.8,150.11 329.3,150.3 328.8,150.75 328.3,150.24 327.8,150.48 327.3,150.1 326.8,150.63 326.3,150.5 325.8,150.13 325.3,150.16 324.8,150.72 324.3,150.63 323.8,150.54 323.3,150.17 322.8,150.39 322.3,150.58 321.8,150.67 321.3,150.6 320.8,150.45 320.3,150.74 319.8,150.51 319.3,150.32 318.8,150.45 318.3,150.64 317.8,150.61 317.3,150.15 316.8,150.25 316.3,150.44 315.8,150.74 315.3,150.24 314.8,150.32 314.3,150.62 313.8,150.62 313.3,150.52 312.8,150.44 312.3,150.18 311.8,150.74 311.3,150.28 310.8,150.49 310.3,150.48 309.8,150.73 309.3,150.37 308.8,150.19 308.3,150.17 307.8,150.66 307.3,150.64 306.8,150.59 306.3,150.26 305.8,150.32 305.3,150.66 304.8,150.34 304.3,150.47 303.8,150.43 303.3,150.26 302.8,150.27 302.3,150.09 301.8,150.6 301.3,150.5 300.8,150.11 300.3,150.19 299.8,150.32 299.3,150.36 298.8,150.14 298.3,150.16 297.8,150.47 297.3,150.75 296.8,150.7 296.3,150.1 295.8,150.23 295.3,150.14 294.8,150.54 294.3,150.54 293.8,150.53 293.3,150.72 292.8,150.51 292.3,150.73 291.8,150.36 291.3,150.46 290.8,150.67 290.3,150.71 289.8,150.48 289.3,150.1 288.8,150.21 288.3,150.27 287.8,150.6 287.3,150.17 286.8,150.24 286.3,150.71 285.8,150.63 285.3,150.2 284.8,150.63 284.3,150.38 283.8,150.34 283.3,150.3 282.8,150.64 282.3,150.23 281.8,150.34 281.3,150.28 280.8,150.11 280.3,150.56 279.8,150.24 279.3,150.39 278.8,150.28 278.3,150.25 277.8,150.6 277.3,150.22 276.8,150.28 276.3,150.42 275.8,150.33 275.3,150.32 274.8,150.07 274.3,150.28 273.8,150.14 273.3,150.71 272.8,150.06 272.3,150.24 271.8,150.47 271.3,150.53 270.8,150.07 270.3,150.34 269.8,150.16 269.3,150.41 268.8,150.23 268.3,150.58 267.8,150.72 267.3,150.26 266.8,150.65 266.3,150.12 265.8,150.74 265.3,150.2 264.8,150.28 264.3,150.17 263.8,150.69 263.3,150.14 262.8,150.71 262.3,150.15 261.8,150.2 261.3,150.22 260.8,150.51 260.3,150.12 259.8,150.73 259.3,150.19 258.8,150.64 258.3,150.57 257.8,150.34 257.3,150.69 256.8,150.73 256.3,150.69 255.8,150.34 255.3,150.22 254.8,150.66 254.3,150.06 253.8,150.33 253.3,150.48 252.8,150.29 252.3,150.11 251.8,150.74 251.3,150.19 250.8,150.24 250.3,150.42 249.8,150.12 249.3,150.43 248.8,150.42 248.3,150.14 247.8,150.59 247.3,150.47 246.8,150.15 246.3,150.26 245.8,150.26 245.3,150.63 244.8,150.47 244.3,150.15 243.8,150.2 243.3,150.59 242.8,150.22 242.3,150.46 241.8,150.44 241.3,150.63 240.8,150.3 240.3,150.48 239.8,150.44 239.3,150.75 238.8,150.09 238.3,150.05 237.8,150.59 237.3,150.68 236.8,150.39 236.3,150.29 235.8,150.17 235.3,150.31 234.8,150.53 234.3,150.15 233.8,150.69 233.3,150.61 232.8,150.3 232.3,150.54 231.8,150.33 231.3,150.06 230.8,150.49 230.3,150.24 229.8,150.71 229.3,150.7 228.8,150.08 228.3,150.17 227.8,150.55 227.3,150.64 226.8,150.69 226.3,150.23 225.8,150.33 225.3,150.59 224.8,150.41 224.3,150.49 223.8,150.54 223.3,150.53 222.8,150.54 222.3,150.39 221.8,150.34 221.3,150.69 220.8,150.22 220.3,150.32 219.8,150.59 219.3,150.7 218.8,150.67 218.3,150.7 217.8,150.05 217.3,150.61 216.8,150.57 216.3,150.43 215.8,150.5 215.3,150.11 214.8,150.1 214.3,150.23 213.8,150.62 213.3,150.14 212.8,150.19 212.3,150.67 211.8,150.52 211.3,150.5 210.8,150.05 210.3,150.73 209.8,150.72 209.3,150.71 208.8,150.15 208.3,150.54 207.8,150.43 207.3,150.24 206.8,150.65 206.3,150.18 205.8,150.65 205.3,150.4 204.8,150.42 204.3,150.05 203.8,150.12 203.3,150.41 202.8,150.41 202.3,150.31 201.8,150.67 201.3,150.6 200.8,150.37 200.3,150.08 199.8,150.07 199.3,150.49 198.8,150.73 198.3,150.56 197.8,150.31 197.3,150.4 196.8,150.74 196.3,150.74 195.8,150.63 195.3,150.61 194.8,150.61 194.3,150.68 193.8,150.31 193.3,150.65 192.8,150.3 192.3,150.45 191.8,150.56 191.3,150.49 190.8,150.41 190.3,150.57 189.8,150.68 189.3,150.55 188.8,150.12 188.3,150.18 187.8,150.53 187.3,150.36 186.8,150.66 186.3,150.69 185.8,150.53 185.3,150.51 184.8,150.28 184.3,150.57 183.8,150.21 183.3,150.61 182.8,150.18 182.3,150.45 181.8,150.07 181.3,150.72 180.8,150.58 180.3,150.47 179.8,150.69 179.3,150.6 178.8,151.63 178.3,152.02 177.8,151.75 177.3,152.02 176.8,152.13 176.3,151.72 175.8,152.1 175.3,152.02 174.8,151.89 174.3,150.28 173.8,150.5 173.3,150.45 172.8,150.71 172.3,150.58 171.8,150.14 171.3,150.59 170.8,150.56 170.3,150.28 169.8,150.57 169.3,150.12 168.8,150.64 168.3,150.17 167.8,150.3 167.3,150.17 166.8,150.27 166.3,150.56 165.8,150.39 165.3,150.12 164.8,150.34 164.3,150.11 163.8,150.2 163.3,150.44 162.8,150.67 162.3,150.18 161.8,150.33 161.3,150.12 160.8,150.63 160.3,150.35 159.8,150.73 159.3,150.36 158.8,150.27 158.3,150.71 157.8,150.39 157.3,150.34 156.8,150.14 156.3,150.48 155.8,150.62 155.3,150.26 154.8,150.46 154.3,150.62 153.8,150.26 153.3,150.43 152.8,150.22 152.3,150.32 151.8,150.56 151.3,150.59 150.8,150.05 150.3,150.55 149.8,150.33 149.3,150.19 148.8,150.51 148.3,150.25 147.8,150.29 147.3,150.69 146.8,150.69 146.3,150.38 145.8,150.39 145.3,150.35 144.8,150.26 144.3,150.39 143.8,150.05 143.3,150.07 142.8,150.68 142.3,150.19 141.8,150.63 141.3,150.62 140.8,150.38 140.3,150.46 139.8,150.59 139.3,150.32 138.8,150.65 138.3,150.73 137.8,150.18 137.3,150.67 136.8,150.23 136.3,150.38 135.8,150.17 135.3,150.28 134.8,150.36 134.3,150.35 133.8,150.5 133.3,150.06 132.8,150.1 132.3,150.38 131.8,150.64 131.3,150.49 130.8,150.71 130.3,150.26 129.8,150.58 129.3,150.46 128.8,150.41 128.3,150.18 127.8,150.16 127.3,150.66 126.8,150.05 126.3,150.51 125.8,150.52 125.3,150.58 124.8,150.5 124.3,150.37 123.8,150.72 123.3,150.52 122.8,150.22 122.3,150.17 121.8,150.3 121.3,150.14 120.8,150.06 120.3,150.44 119.8,150.44 119.3,150.2 118.8,150.56 118.3,150.67 117.8,150.48 117.3,150.34 116.8,150.45 116.3,150.08 115.8,150.63 115.3,150.59 114.8,150.17 114.3,150.67 113.8,150.73 113.3,150.08 112.8,150.51 112.3,150.17 111.8,150.59 111.3,150.36 110.8,150.61 110.3,150.63 109.8,150.68 109.3,150.61 108.8,150.69 108.3,150.21 107.8,150.22 107.3,150.24 106.8,150.53 106.3,150.51 105.8,150.65 105.3,150.39 104.8,150.61 104.3,150.61 103.8,150.26 103.3,150.33 102.8,150.31 102.3,150.5 101.8,150.61 101.3,150.73 100.8,150.52 100.3,150.15 99.8,150.31 99.3,150.71 98.8,150.18 98.3,150.24 97.8,150.13 97.3,150.18 96.8,150.09 96.3,150.49 95.8,150.4 95.3,150.34 94.8,150.15 94.3,150.22 93.8,150.19 93.3,150.21 92.8,150.63 92.3,150.58 91.8,150.2 91.3,150.21 90.8,150.64 90.3,150.62 89.8,150.75 89.3,150.27 88.8,150.67 88.3,150.28 87.8,150.24 87.3,150.67 86.8,150.22 86.3,150.19 85.8,150.69 85.3,150.31 84.8,150.28 84.3,150.57 83.8,150.32 83.3,150.19 82.8,150.66 82.3,150.23 81.8,150.22 81.3,150.52 80.8,150.35 80.3,150.48 79.8,150.48 79.3,150.67 78.8,150.31 78.3,150.66 77.8,150.11 77.3,150.36 76.8,150.5 76.3,150.11 75.8,150.06 75.3,150.33 74.8,150.08 74.3,150.08 73.8,150.47 73.3,150.56 72.8,150.45 72.3,150.17 71.8,150.41 71.3,150.69 70.8,150.21 70.3,150.07 69.8,150.69 69.3,150.4 68.8,150.61 68.3,150.74 67.8,150.25 67.3,150.48 66.8,150.29 66.3,150.09 65.8,150.43 65.3,150.49 64.8,150.12 64.3,150.3 63.8,150.67 63.3,150.24 62.8,150.24 62.3,150.47 61.8,150.05 61.3,150.26 60.8,150.43 60.3,150.37 59.8,150.56 59.3,150.35 58.8,150.54 58.3,150.53 57.8,150.32 57.3,150.67 56.8,150.12 56.3,150.09 55.8,150.05 55.3,150.7 54.8,150.18 54.3,150.06 53.8,150.27 53.3,150.69 52.8,150.49 52.3,150.21 51.8,150.39 51.3,150.63 50.8,150.58 50.3,150.58 49.8,150.21 49.3,150.56 48.8,150.3 48.3,150.73 47.8,150.35 47.3,150.44 46.8,150.68 46.3,150.36 45.8,150.39 45.3,150.17 44.8,150.64 44.3,150.13 43.8,151.25 43.3,151.06 42.8,151.11 42.3,151.49 41.8,150.97 41.3,151.33 40.8,151.28 40.3,151.49 39.8,151.46 39.3,151.25 38.8,151.43 38.3,151.06 37.8,151.15 37.3,151.47 36.8,151.34 36.3,151.14 35.8,151.32 35.3,151.42 34.8,151.32 34.3,151.37 33.8,150.97 33.3,151.37 32.8,151.08 32.3,151.47 31.8,151.23"/>
<line x1="340.1" y1="115.6" x2="340.1" y2="181" stroke="#e8281e" stroke-width="1.8"/>
<line x1="360.7" y1="118.7" x2="360.7" y2="189" stroke="#e8281e" stroke-width="1.8"/>
<line x1="381.5" y1="115.6" x2="381.5" y2="178.8" stroke="#e8281e" stroke-width="1.8"/>
<line x1="401.8" y1="116.8" x2="401.8" y2="181" stroke="#e8281e" stroke-width="1.8"/>
<line x1="422.4" y1="118.7" x2="422.4" y2="181.8" stroke="#e8281e" stroke-width="1.8"/>
<line x1="251.2" y1="144.6" x2="251.2" y2="152" stroke="#e8281e" stroke-width="1.2"/>
<line x1="263.7" y1="144.6" x2="263.7" y2="152" stroke="#e8281e" stroke-width="1.2"/>
<line x1="301.5" y1="144.6" x2="301.5" y2="152" stroke="#e8281e" stroke-width="1.2"/>
<line x1="426.5" y1="144.6" x2="426.5" y2="152" stroke="#e8281e" stroke-width="1.2"/>
<line x1="507" y1="144.6" x2="507" y2="152" stroke="#e8281e" stroke-width="1.2"/>
<line x1="527" y1="144.6" x2="527" y2="152" stroke="#e8281e" stroke-width="1.2"/>
<rect x="44" y="132.4" width="126.2" height="46.9" fill="#fff" stroke="#686868" stroke-width="1.25"/>
<line x1="49" y1="145.2" x2="95" y2="145.2" stroke="#5aa2dd" stroke-width="1.2"/>
<line x1="49" y1="166.7" x2="95" y2="166.7" stroke="#ea5a58" stroke-width="1.2"/>
<text x="98.6" y="152.2" font-size="13.8">Receiver</text>
<text transform="translate(150,145.9) scale(1,0.86)" font-size="11.5">(1)</text>
<text x="98.6" y="173.5" font-size="13.8">Receiver</text>
<text transform="translate(150,167.2) scale(1,0.86)" font-size="11.5">(2)</text>
<rect x="31.3" y="28.1" width="501.7" height="160.6" fill="none" stroke="#5e5e5e" stroke-width="1.25"/>
<line x1="131.64" y1="28.1" x2="131.64" y2="33.6" stroke="#5e5e5e" stroke-width="1.2"/>
<line x1="131.64" y1="188.7" x2="131.64" y2="183.2" stroke="#5e5e5e" stroke-width="1.2"/>
<line x1="231.98" y1="28.1" x2="231.98" y2="33.6" stroke="#5e5e5e" stroke-width="1.2"/>
<line x1="231.98" y1="188.7" x2="231.98" y2="183.2" stroke="#5e5e5e" stroke-width="1.2"/>
<line x1="332.32" y1="28.1" x2="332.32" y2="33.6" stroke="#5e5e5e" stroke-width="1.2"/>
<line x1="332.32" y1="188.7" x2="332.32" y2="183.2" stroke="#5e5e5e" stroke-width="1.2"/>
<line x1="432.66" y1="28.1" x2="432.66" y2="33.6" stroke="#5e5e5e" stroke-width="1.2"/>
<line x1="432.66" y1="188.7" x2="432.66" y2="183.2" stroke="#5e5e5e" stroke-width="1.2"/>
<line x1="31.3" y1="108.4" x2="36.8" y2="108.4" stroke="#5e5e5e" stroke-width="1.2"/>
<line x1="533" y1="108.4" x2="527.5" y2="108.4" stroke="#5e5e5e" stroke-width="1.2"/>
<text x="30.2" y="204.3" font-size="13">0</text>
<text x="121.4" y="204.3" font-size="13">0.05</text>
<text x="226" y="204.3" font-size="13">0.1</text>
<text x="319.8" y="204.3" font-size="13">0.15</text>
<text x="422.1" y="204.3" font-size="13">0.2</text>
<text x="524.3" y="204.3" font-size="13">0.25</text>
<text x="122.2" y="17.9" font-size="17.2">(a) RF background activities for segment 1</text>
<text x="241.5" y="232.4" font-size="16.8">Time (sec)</text>
<text transform="translate(19.3,183.6) rotate(-90)" x="0" y="0" font-size="14.4">Amplitude (Normalized)</text>
<line x1="129.9" y1="279.5" x2="129.9" y2="439.6" stroke="#ececec" stroke-width="1"/>
<line x1="230.3" y1="279.5" x2="230.3" y2="439.6" stroke="#ececec" stroke-width="1"/>
<line x1="330.7" y1="279.5" x2="330.7" y2="439.6" stroke="#ececec" stroke-width="1"/>
<line x1="431.1" y1="279.5" x2="431.1" y2="439.6" stroke="#ececec" stroke-width="1"/>
<line x1="29.5" y1="359.55" x2="531.5" y2="359.55" stroke="#ececec" stroke-width="1"/>
<line x1="29.5" y1="319.3" x2="531.5" y2="319.3" stroke="#2d71c2" stroke-width="1.8"/>
<line x1="409.3" y1="319.3" x2="417.8" y2="319.3" stroke="#2d71c2" stroke-width="2.6"/>
<polygon fill="#2d71c2" points="73,292.1 74.3,292.1 74.3,293.8 75.2,293.8 75.2,291.2 76.8,291.2 76.8,295 78.5,295 78.5,290.4 79.8,290.4 79.8,284.4 80.7,284.4 80.7,290.8 82.8,290.8 82.8,283.5 83.6,283.5 83.6,291.6 85.3,291.6 85.3,292.9 87.9,292.9 87.9,288.2 88.8,288.2 88.8,288.2 89.6,288.2 89.6,286.1 90.6,286.1 90.6,283.3 92.9,283.3 92.9,359.2 90.6,359.2 90.6,356.7 89.6,356.7 89.6,354 88.8,354 88.8,350.5 87.9,350.5 87.9,346.4 85.3,346.4 85.3,347.3 83.6,347.3 83.6,355.4 82.8,355.4 82.8,348.1 80.7,348.1 80.7,355 79.8,355 79.8,348.1 78.5,348.1 78.5,344.7 76.8,344.7 76.8,344.3 75.2,344.3 75.2,347.3 74.3,347.3 74.3,345.6 73,345.6"/>
<line x1="78.1" y1="300" x2="78.1" y2="344" stroke="#6f9fd8" stroke-width="0.5" opacity="0.6"/>
<line x1="86.6" y1="300" x2="86.6" y2="340" stroke="#6f9fd8" stroke-width="0.5" opacity="0.6"/>
<line x1="141.8" y1="297.4" x2="141.8" y2="339.9" stroke="#2d71c2" stroke-width="2.3"/>
<line x1="196.4" y1="299" x2="196.4" y2="340.7" stroke="#2d71c2" stroke-width="1.5"/>
<line x1="212.2" y1="299.8" x2="212.2" y2="339.1" stroke="#2d71c2" stroke-width="1.7"/>
<line x1="295.7" y1="303.9" x2="295.7" y2="337.1" stroke="#2d71c2" stroke-width="1.6"/>
<line x1="319.4" y1="303" x2="319.4" y2="333.9" stroke="#2d71c2" stroke-width="1.5"/>
<line x1="343.6" y1="303.5" x2="343.6" y2="334.3" stroke="#2d71c2" stroke-width="1.5"/>
<line x1="395.9" y1="305.9" x2="395.9" y2="332" stroke="#2d71c2" stroke-width="1.5"/>
<line x1="404.4" y1="305.9" x2="404.4" y2="332.4" stroke="#2d71c2" stroke-width="1.9"/>
<line x1="438.8" y1="301.1" x2="438.8" y2="339.2" stroke="#2d71c2" stroke-width="1.6"/>
<line x1="496.9" y1="287.8" x2="496.9" y2="354.4" stroke="#2d71c2" stroke-width="1.6"/>
<line x1="199.9" y1="297.4" x2="199.9" y2="341.5" stroke="#2d71c2" stroke-width="1.0"/>
<line x1="202.6" y1="299" x2="202.6" y2="341.5" stroke="#2d71c2" stroke-width="1.0"/>
<path d="M198.2,319.5 C198.2,300 203.4,300 203.4,319.5 C203.4,339 198.2,339 198.2,319.5 Z" fill="#2d71c2"/>
<rect x="198.3" y="303" width="5" height="34" fill="#2d71c2" opacity="0.55"/>
<rect x="303.7" y="313.3" width="1.9" height="10.7" fill="#2d71c2"/>
<rect x="305.4" y="304.5" width="8.8" height="30" fill="#2d71c2"/>
<line x1="305.3" y1="302.59" x2="305.3" y2="335.33" stroke="#2d71c2" stroke-width="0.8"/>
<line x1="305.9" y1="303.38" x2="305.9" y2="335.4" stroke="#2d71c2" stroke-width="0.8"/>
<line x1="306.5" y1="303.9" x2="306.5" y2="336.49" stroke="#2d71c2" stroke-width="0.8"/>
<line x1="307.1" y1="303.4" x2="307.1" y2="334.7" stroke="#2d71c2" stroke-width="0.8"/>
<line x1="307.7" y1="302.31" x2="307.7" y2="335.29" stroke="#2d71c2" stroke-width="0.8"/>
<line x1="308.3" y1="303.17" x2="308.3" y2="335.63" stroke="#2d71c2" stroke-width="0.8"/>
<line x1="308.9" y1="303.38" x2="308.9" y2="335.1" stroke="#2d71c2" stroke-width="0.8"/>
<line x1="309.5" y1="303.75" x2="309.5" y2="334.44" stroke="#2d71c2" stroke-width="0.8"/>
<line x1="310.1" y1="303.64" x2="310.1" y2="334.2" stroke="#2d71c2" stroke-width="0.8"/>
<line x1="310.7" y1="303.66" x2="310.7" y2="335.95" stroke="#2d71c2" stroke-width="0.8"/>
<line x1="311.3" y1="302.52" x2="311.3" y2="336.43" stroke="#2d71c2" stroke-width="0.8"/>
<line x1="311.9" y1="302.79" x2="311.9" y2="336.31" stroke="#2d71c2" stroke-width="0.8"/>
<line x1="312.5" y1="303.7" x2="312.5" y2="334.95" stroke="#2d71c2" stroke-width="0.8"/>
<line x1="313.1" y1="303.55" x2="313.1" y2="335.68" stroke="#2d71c2" stroke-width="0.8"/>
<line x1="313.7" y1="303.22" x2="313.7" y2="335.98" stroke="#2d71c2" stroke-width="0.8"/>
<line x1="314.3" y1="304.22" x2="314.3" y2="336.56" stroke="#2d71c2" stroke-width="0.8"/>
<polygon points="336.1,312.4 343.2,311.7 344.3,312 344.3,326.1 336.1,326.1" fill="#2d71c2"/>
<rect x="423.1" y="305.2" width="7.1" height="27.8" fill="#2d71c2"/>
<line x1="423.3" y1="304.18" x2="423.3" y2="333.69" stroke="#2d71c2" stroke-width="0.7"/>
<line x1="423.9" y1="303.93" x2="423.9" y2="334.03" stroke="#2d71c2" stroke-width="0.7"/>
<line x1="424.5" y1="304.46" x2="424.5" y2="333.44" stroke="#2d71c2" stroke-width="0.7"/>
<line x1="425.1" y1="303.71" x2="425.1" y2="333.34" stroke="#2d71c2" stroke-width="0.7"/>
<line x1="425.7" y1="304.66" x2="425.7" y2="333.34" stroke="#2d71c2" stroke-width="0.7"/>
<line x1="426.3" y1="303.68" x2="426.3" y2="333.7" stroke="#2d71c2" stroke-width="0.7"/>
<line x1="426.9" y1="304.15" x2="426.9" y2="334.02" stroke="#2d71c2" stroke-width="0.7"/>
<line x1="427.5" y1="304.85" x2="427.5" y2="333.87" stroke="#2d71c2" stroke-width="0.7"/>
<line x1="428.1" y1="305.2" x2="428.1" y2="333.97" stroke="#2d71c2" stroke-width="0.7"/>
<line x1="428.7" y1="304.19" x2="428.7" y2="333.68" stroke="#2d71c2" stroke-width="0.7"/>
<line x1="429.3" y1="304.07" x2="429.3" y2="333.24" stroke="#2d71c2" stroke-width="0.7"/>
<line x1="429.9" y1="303.97" x2="429.9" y2="333.13" stroke="#2d71c2" stroke-width="0.7"/>
<polygon points="430.2,301.6 431.8,301 432.4,298 434.3,298.5 434.3,340.2 432.4,340.2 431.6,337.7 430.2,337.7" fill="#2d71c2"/>
<line x1="62.7" y1="318.2" x2="62.7" y2="320.6" stroke="#2d71c2" stroke-width="1.0"/>
<line x1="95.8" y1="318.2" x2="95.8" y2="320.6" stroke="#2d71c2" stroke-width="1.0"/>
<line x1="114.5" y1="318.2" x2="114.5" y2="320.6" stroke="#2d71c2" stroke-width="1.0"/>
<line x1="135.7" y1="318.2" x2="135.7" y2="320.6" stroke="#2d71c2" stroke-width="1.0"/>
<line x1="146.4" y1="318.2" x2="146.4" y2="320.6" stroke="#2d71c2" stroke-width="1.0"/>
<line x1="155.9" y1="318.2" x2="155.9" y2="320.6" stroke="#2d71c2" stroke-width="1.0"/>
<line x1="164.4" y1="318.2" x2="164.4" y2="320.6" stroke="#2d71c2" stroke-width="1.0"/>
<line x1="169.3" y1="318.2" x2="169.3" y2="320.6" stroke="#2d71c2" stroke-width="1.0"/>
<line x1="176.6" y1="318.2" x2="176.6" y2="320.6" stroke="#2d71c2" stroke-width="1.0"/>
<line x1="188.1" y1="318.2" x2="188.1" y2="320.6" stroke="#2d71c2" stroke-width="1.0"/>
<line x1="360" y1="318.2" x2="360" y2="320.6" stroke="#2d71c2" stroke-width="1.0"/>
<line x1="379.6" y1="318.2" x2="379.6" y2="320.6" stroke="#2d71c2" stroke-width="1.0"/>
<line x1="461.5" y1="318.2" x2="461.5" y2="320.6" stroke="#2d71c2" stroke-width="1.0"/>
<line x1="465.8" y1="318.2" x2="465.8" y2="320.6" stroke="#2d71c2" stroke-width="1.0"/>
<line x1="487.7" y1="318.2" x2="487.7" y2="320.6" stroke="#2d71c2" stroke-width="1.0"/>
<line x1="506.9" y1="318.2" x2="506.9" y2="320.6" stroke="#2d71c2" stroke-width="1.0"/>
<polygon fill="#e8281e" points="30,397.96 30.5,397.97 31,397.61 31.5,397.95 32,398.11 32.5,397.81 33,397.99 33.5,397.6 34,397.97 34.5,397.7 35,398.01 35.5,397.76 36,397.46 36.5,397.91 37,397.73 37.5,397.8 38,398.09 38.5,398.13 39,397.48 39.5,397.88 40,397.6 40.5,397.82 41,397.48 41.5,397.99 42,397.76 42.5,397.71 43,397.52 43.5,398.13 44,397.86 44.5,397.77 45,397.68 45.5,398.04 46,397.72 46.5,397.6 47,397.56 47.5,397.97 48,397.8 48.5,397.91 49,397.84 49.5,397.86 50,397.39 50.5,398.14 51,397.39 51.5,398.12 52,398.09 52.5,397.99 53,397.92 53.5,397.46 54,397.48 54.5,397.4 55,397.84 55.5,398.14 56,397.65 56.5,397.43 57,398.06 57.5,397.49 58,398.15 58.5,397.56 59,397.76 59.5,397.42 60,397.45 60.5,398.11 61,397.75 61.5,397.96 62,397.8 62.5,398.1 63,397.86 63.5,397.82 64,398.15 64.5,397.77 65,397.43 65.5,398.1 66,397.39 66.5,397.76 67,397.98 67.5,397.37 68,397.77 68.5,397.8 69,397.85 69.5,397.44 70,398.05 70.5,397.98 71,397.92 71.5,398.1 72,397.47 72.5,397.76 73,397.67 73.5,397.44 74,397.75 74.5,397.93 75,397.73 75.5,397.75 76,397.91 76.5,397.96 77,397.86 77.5,397.56 78,398.02 78.5,397.35 79,397.96 79.5,397.93 80,398.05 80.5,397.84 81,397.85 81.5,397.6 82,397.43 82.5,397.95 83,397.5 83.5,397.9 84,397.82 84.5,398.05 85,397.44 85.5,397.85 86,397.59 86.5,398.13 87,397.59 87.5,397.97 88,397.79 88.5,397.61 89,398.01 89.5,397.73 90,397.48 90.5,398.02 91,397.78 91.5,398 92,398.04 92.5,397.76 93,397.78 93.5,397.63 94,397.46 94.5,397.58 95,397.88 95.5,397.76 96,397.61 96.5,397.48 97,397.6 97.5,397.75 98,398.04 98.5,397.46 99,397.92 99.5,397.83 100,397.44 100.5,397.98 101,397.42 101.5,397.97 102,398.08 102.5,397.74 103,397.51 103.5,397.83 104,397.48 104.5,397.83 105,397.5 105.5,398.06 106,397.92 106.5,398.05 107,397.56 107.5,397.77 108,397.63 108.5,397.96 109,397.56 109.5,397.36 110,398.09 110.5,397.89 111,397.45 111.5,397.47 112,397.45 112.5,397.97 113,397.7 113.5,398.08 114,397.81 114.5,397.69 115,397.94 115.5,397.81 116,397.86 116.5,398.08 117,398.1 117.5,397.53 118,398.15 118.5,397.36 119,397.43 119.5,397.36 120,397.52 120.5,398.15 121,398.06 121.5,397.9 122,398 122.5,398.1 123,397.42 123.5,397.42 124,397.54 124.5,397.95 125,397.47 125.5,397.49 126,397.89 126.5,398.05 127,398.04 127.5,397.82 128,397.48 128.5,398.09 129,397.81 129.5,397.87 130,397.44 130.5,398.03 131,397.63 131.5,397.89 132,397.63 132.5,397.49 133,397.49 133.5,397.47 134,397.92 134.5,397.93 135,398.05 135.5,397.95 136,398.05 136.5,397.52 137,398.11 137.5,398 138,397.52 138.5,397.54 139,397.37 139.5,397.84 140,398.11 140.5,397.5 141,397.92 141.5,397.53 142,398.13 142.5,398.12 143,397.67 143.5,397.6 144,397.7 144.5,397.72 145,397.67 145.5,398.05 146,398.1 146.5,397.87 147,397.71 147.5,397.95 148,398.01 148.5,397.79 149,397.82 149.5,397.94 150,397.41 150.5,397.4 151,398.11 151.5,397.77 152,397.96 152.5,397.88 153,398.13 153.5,398.09 154,398.12 154.5,398.05 155,397.63 155.5,398.09 156,397.44 156.5,397.51 157,397.93 157.5,397.6 158,397.39 158.5,398.06 159,397.7 159.5,397.78 160,397.9 160.5,397.92 161,398.08 161.5,397.63 162,397.99 162.5,397.81 163,397.41 163.5,397.87 164,397.9 164.5,397.4 165,397.68 165.5,397.69 166,397.97 166.5,397.64 167,397.85 167.5,397.71 168,397.83 168.5,398.09 169,397.45 169.5,397.6 170,397.38 170.5,397.9 171,397.92 171.5,398.04 172,397.91 172.5,397.89 173,398 173.5,397.94 174,397.91 174.5,397.46 175,397.79 175.5,397.49 176,398.11 176.5,398 177,397.39 177.5,398.11 178,398.09 178.5,397.74 179,397.92 179.5,397.99 180,397.66 180.5,397.66 181,398 181.5,397.72 182,397.79 182.5,397.47 183,398.1 183.5,397.96 184,397.7 184.5,398.12 185,397.47 185.5,397.38 186,397.89 186.5,397.53 187,397.95 187.5,397.39 188,397.98 188.5,398.15 189,398.1 189.5,397.78 190,398.12 190.5,397.37 191,397.65 191.5,397.69 192,397.65 192.5,397.82 193,397.44 193.5,397.58 194,397.81 194.5,397.92 195,398.03 195.5,397.9 196,397.87 196.5,398.09 197,397.41 197.5,397.94 198,397.72 198.5,398.1 199,397.71 199.5,397.63 200,398.09 200.5,397.37 201,398.02 201.5,397.94 202,397.56 202.5,397.88 203,397.45 203.5,397.96 204,397.9 204.5,397.6 205,397.46 205.5,397.44 206,397.92 206.5,397.73 207,397.82 207.5,397.61 208,397.97 208.5,397.48 209,397.58 209.5,398.01 210,397.9 210.5,397.88 211,397.41 211.5,397.79 212,397.66 212.5,397.41 213,397.83 213.5,397.39 214,397.92 214.5,398.14 215,398.07 215.5,397.6 216,397.84 216.5,397.48 217,397.72 217.5,397.6 218,397.87 218.5,397.68 219,397.59 219.5,397.85 220,397.76 220.5,397.48 221,397.41 221.5,397.87 222,398.1 222.5,397.48 223,397.79 223.5,397.37 224,397.54 224.5,397.86 225,397.47 225.5,397.71 226,397.58 226.5,397.44 227,397.69 227.5,397.39 228,397.83 228.5,397.85 229,397.64 229.5,397.83 230,397.58 230.5,397.73 231,397.56 231.5,397.49 232,397.7 232.5,397.42 233,397.53 233.5,397.46 234,398.13 234.5,398.14 235,397.64 235.5,397.88 236,397.45 236.5,397.84 237,397.55 237.5,397.95 238,397.65 238.5,397.43 239,397.46 239.5,397.86 240,397.76 240.5,397.72 241,397.87 241.5,397.76 242,397.38 242.5,397.45 243,397.9 243.5,397.6 244,397.39 244.5,397.86 245,397.47 245.5,397.51 246,397.44 246.5,398.08 247,397.41 247.5,397.37 248,397.96 248.5,397.64 249,398.08 249.5,397.67 250,397.58 250.5,397.55 251,397.46 251.5,397.92 252,398.06 252.5,397.5 253,398.13 253.5,397.96 254,397.96 254.5,397.53 255,397.8 255.5,397.48 256,397.62 256.5,397.48 257,397.52 257.5,397.45 258,397.93 258.5,397.87 259,397.65 259.5,397.68 260,397.53 260.5,397.5 261,397.91 261.5,398.05 262,397.56 262.5,397.6 263,397.93 263.5,398.1 264,398.13 264.5,397.95 265,397.93 265.5,397.98 266,398.11 266.5,398.01 267,397.87 267.5,398.08 268,397.98 268.5,397.8 269,397.47 269.5,397.45 270,397.83 270.5,398.05 271,397.93 271.5,397.61 272,397.82 272.5,397.69 273,397.56 273.5,397.62 274,397.46 274.5,398.08 275,397.91 275.5,398.12 276,397.73 276.5,397.66 277,397.95 277.5,398.11 278,397.78 278.5,398.02 279,397.99 279.5,397.84 280,397.39 280.5,397.86 281,397.58 281.5,397.85 282,397.83 282.5,398.04 283,398 283.5,397.53 284,397.81 284.5,397.92 285,397.36 285.5,397.45 286,397.94 286.5,397.8 287,397.7 287.5,398.02 288,397.81 288.5,397.92 289,397.5 289.5,398.07 290,397.36 290.5,397.96 291,397.89 291.5,398.09 292,397.42 292.5,397.49 293,398.1 293.5,397.73 294,397.84 294.5,397.67 295,397.88 295.5,397.38 296,397.98 296.5,397.49 297,397.94 297.5,397.63 298,397.81 298.5,397.73 299,397.73 299.5,397.65 300,398.1 300.5,398.1 301,397.37 301.5,397.95 302,397.86 302.5,397.96 303,397.63 303.5,397.36 304,397.83 304.5,397.89 305,397.87 305.5,398.13 306,398.08 306.5,398.11 307,397.89 307.5,397.36 308,398.04 308.5,397.71 309,397.98 309.5,398.12 310,397.48 310.5,398.05 311,398.04 311.5,397.5 312,397.96 312.5,397.99 313,397.4 313.5,397.99 314,397.48 314.5,397.9 315,397.7 315.5,397.9 316,397.88 316.5,397.4 317,397.42 317.5,398.01 318,397.57 318.5,398.04 319,397.91 319.5,398.09 320,397.63 320.5,397.57 321,397.55 321.5,397.53 322,397.83 322.5,398.01 323,398.15 323.5,397.8 324,397.4 324.5,397.79 325,397.66 325.5,397.42 326,397.46 326.5,397.56 327,397.68 327.5,397.96 328,397.55 328.5,397.82 329,397.58 329.5,397.97 330,397.4 330.5,398.02 331,397.52 331.5,397.44 332,398.03 332.5,397.46 333,397.63 333.5,397.67 334,397.95 334.5,397.89 335,397.96 335.5,397.8 336,397.63 336.5,397.57 337,397.59 337.5,397.87 338,397.88 338.5,397.54 339,397.37 339.5,397.97 340,397.82 340.5,397.93 341,397.37 341.5,398.14 342,397.44 342.5,397.54 343,397.88 343.5,397.61 344,397.85 344.5,397.64 345,397.81 345.5,397.42 346,397.78 346.5,397.5 347,397.69 347.5,397.85 348,397.38 348.5,397.99 349,397.42 349.5,397.36 350,397.47 350.5,397.66 351,397.65 351.5,397.41 352,397.8 352.5,397.49 353,397.53 353.5,397.46 354,397.8 354.5,397.63 355,398.08 355.5,398.09 356,398.06 356.5,397.56 357,397.87 357.5,397.42 358,398.09 358.5,398.01 359,397.48 359.5,397.82 360,397.97 360.5,397.53 361,397.96 361.5,397.37 362,397.93 362.5,397.46 363,397.77 363.5,397.4 364,397.91 364.5,397.41 365,397.91 365.5,397.79 366,397.64 366.5,397.71 367,397.61 367.5,397.59 368,397.94 368.5,398.14 369,397.57 369.5,397.67 370,397.7 370.5,397.75 371,397.41 371.5,397.91 372,397.42 372.5,398.02 373,397.59 373.5,397.4 374,398.03 374.5,397.53 375,397.93 375.5,398.1 376,397.81 376.5,397.59 377,397.92 377.5,397.39 378,398.15 378.5,397.94 379,397.88 379.5,397.85 380,397.91 380.5,398.13 381,397.98 381.5,397.94 382,397.61 382.5,397.85 383,397.57 383.5,397.8 384,397.88 384.5,398.02 385,397.97 385.5,397.43 386,397.79 386.5,397.9 387,397.98 387.5,397.45 388,397.59 388.5,397.59 389,397.51 389.5,397.96 390,397.57 390.5,398.09 391,397.62 391.5,397.89 392,397.62 392.5,397.97 393,397.87 393.5,397.61 394,397.4 394.5,397.88 395,398.01 395.5,398.05 396,397.61 396.5,397.43 397,398.14 397.5,397.87 398,398.01 398.5,397.39 399,398.04 399.5,398.1 400,397.54 400.5,397.35 401,397.53 401.5,398.06 402,397.82 402.5,397.73 403,397.43 403.5,397.55 404,398.1 404.5,397.79 405,397.53 405.5,397.72 406,397.62 406.5,397.38 407,397.37 407.5,397.48 408,397.69 408.5,397.9 409,398.02 409.5,398.02 410,397.64 410.5,397.53 411,397.46 411.5,397.42 412,397.92 412.5,397.88 413,397.99 413.5,397.71 414,397.39 414.5,397.54 415,397.8 415.5,398.02 416,397.48 416.5,397.43 417,397.54 417.5,397.92 418,397.84 418.5,397.68 419,397.42 419.5,397.96 420,397.81 420.5,398.1 421,398.15 421.5,397.96 422,397.5 422.5,397.61 423,397.77 423.5,397.82 424,397.94 424.5,397.54 425,397.76 425.5,398.09 426,397.65 426.5,397.36 427,398.09 427.5,397.35 428,398.07 428.5,397.9 429,397.37 429.5,397.37 430,398 430.5,397.57 431,397.66 431.5,397.83 432,397.52 432.5,397.64 433,397.97 433.5,397.76 434,397.58 434.5,397.65 435,397.72 435.5,397.56 436,398.04 436.5,398.12 437,398.12 437.5,397.65 438,397.8 438.5,397.48 439,397.37 439.5,398.06 440,397.85 440.5,397.81 441,397.71 441.5,397.42 442,397.67 442.5,397.91 443,397.62 443.5,397.89 444,397.71 444.5,398.07 445,397.7 445.5,397.77 446,397.63 446.5,397.7 447,397.69 447.5,397.56 448,398.04 448.5,397.55 449,397.65 449.5,397.6 450,397.83 450.5,398.08 451,397.41 451.5,397.49 452,397.37 452.5,397.78 453,397.44 453.5,397.45 454,397.71 454.5,397.43 455,397.5 455.5,398.07 456,398.04 456.5,397.82 457,397.72 457.5,397.63 458,397.7 458.5,397.45 459,397.51 459.5,398.07 460,397.88 460.5,397.44 461,397.55 461.5,398.14 462,397.65 462.5,398.05 463,397.75 463.5,397.35 464,398.09 464.5,397.49 465,397.76 465.5,397.37 466,397.46 466.5,398.1 467,397.64 467.5,397.46 468,397.93 468.5,397.59 469,397.95 469.5,397.99 470,397.88 470.5,397.92 471,397.38 471.5,397.96 472,397.81 472.5,397.76 473,397.6 473.5,397.37 474,397.66 474.5,397.46 475,398.04 475.5,397.62 476,398.01 476.5,397.45 477,397.67 477.5,398.04 478,397.47 478.5,397.73 479,397.76 479.5,398.09 480,397.42 480.5,397.74 481,397.46 481.5,398.09 482,397.61 482.5,397.85 483,397.72 483.5,397.65 484,397.49 484.5,397.41 485,398.02 485.5,397.46 486,398.06 486.5,398.14 487,397.91 487.5,397.92 488,397.53 488.5,397.7 489,397.84 489.5,397.52 490,397.4 490.5,397.64 491,397.63 491.5,397.46 492,397.92 492.5,397.35 493,398.01 493.5,398.11 494,397.49 494.5,398.01 495,397.88 495.5,397.74 496,398.06 496.5,397.81 497,397.87 497.5,398.08 498,397.67 498.5,397.79 499,398.02 499.5,397.52 500,397.82 500.5,398.13 501,397.45 501.5,397.82 502,398.08 502.5,397.92 503,397.95 503.5,398.11 504,397.89 504.5,398.02 505,397.98 505.5,397.61 506,398.02 506.5,398.13 507,398.01 507.5,397.91 508,398.02 508.5,397.67 509,397.45 509.5,397.49 510,397.77 510.5,397.52 511,397.52 511.5,397.64 512,397.51 512.5,397.85 513,397.55 513.5,397.73 514,397.56 514.5,397.56 515,398.1 515.5,397.48 516,398.12 516.5,397.81 517,397.68 517.5,397.49 518,398.1 518.5,397.61 519,397.87 519.5,398.12 520,397.88 520.5,397.64 521,398.08 521.5,397.47 522,398.12 522.5,397.96 523,397.89 523.5,398.1 524,397.41 524.5,397.38 525,397.43 525.5,397.99 526,397.48 526.5,397.88 527,397.92 527.5,397.6 528,398.08 528.5,398.15 529,397.41 529.5,397.87 530,397.51 530.5,397.81 531,398.08 531,401.46 530.5,401.64 530,401.6 529.5,401.58 529,400.93 528.5,401.42 528,401.29 527.5,401.36 527,400.9 526.5,401.42 526,400.93 525.5,401.34 525,401.55 524.5,400.89 524,400.96 523.5,401.47 523,401.39 522.5,401.37 522,400.96 521.5,401.12 521,401.31 520.5,401.5 520,401.41 519.5,401.14 519,401.4 518.5,400.89 518,401.07 517.5,401.02 517,401.1 516.5,401.29 516,400.93 515.5,401.58 515,401.62 514.5,400.86 514,401.22 513.5,401.19 513,400.93 512.5,401.36 512,401.59 511.5,401.2 511,401.04 510.5,401.2 510,401.51 509.5,401.14 509,401.17 508.5,401.17 508,401.26 507.5,401.26 507,401.58 506.5,401.13 506,401.44 505.5,401.39 505,401.02 504.5,400.86 504,401.05 503.5,401.26 503,401.52 502.5,401.02 502,401.01 501.5,401.61 501,401.52 500.5,401.54 500,400.85 499.5,401.42 499,401.24 498.5,401.09 498,400.93 497.5,401.49 497,401.59 496.5,401.27 496,401.08 495.5,401.39 495,400.91 494.5,401.54 494,400.88 493.5,401.57 493,401.09 492.5,401.13 492,401.3 491.5,400.9 491,401.54 490.5,401.21 490,401.53 489.5,401.64 489,400.95 488.5,401.58 488,400.97 487.5,401.09 487,401.3 486.5,401.16 486,401.09 485.5,401.38 485,401.23 484.5,401.13 484,401.47 483.5,401.39 483,400.98 482.5,401.03 482,401.57 481.5,401.13 481,401.47 480.5,401 480,401.49 479.5,400.94 479,401.37 478.5,400.95 478,401.06 477.5,401.3 477,401.35 476.5,401.28 476,401.03 475.5,401.38 475,401.28 474.5,401.42 474,401.38 473.5,401.31 473,401.43 472.5,401.46 472,401.46 471.5,400.86 471,401.04 470.5,401.34 470,401.56 469.5,401.53 469,401.46 468.5,401.61 468,401.63 467.5,401.55 467,401.24 466.5,401.09 466,401.45 465.5,401.17 465,401.59 464.5,401.46 464,401.37 463.5,401.52 463,401.36 462.5,401.38 462,401.57 461.5,401.3 461,401.52 460.5,401.49 460,401.46 459.5,401.48 459,401.04 458.5,401.06 458,401.25 457.5,401.59 457,401.6 456.5,401.45 456,401.31 455.5,401.31 455,401.05 454.5,401.36 454,401.01 453.5,401.27 453,401.23 452.5,400.94 452,401.45 451.5,401.24 451,401.05 450.5,401.2 450,401.21 449.5,400.99 449,401.6 448.5,401.19 448,401.61 447.5,401.57 447,401.32 446.5,401.54 446,400.98 445.5,401.58 445,401.42 444.5,401.02 444,401.11 443.5,401.64 443,401.24 442.5,401.61 442,401.03 441.5,401.07 441,401.19 440.5,401.37 440,400.97 439.5,401.12 439,401.02 438.5,401.42 438,401.39 437.5,401.28 437,400.99 436.5,401.02 436,400.96 435.5,401.34 435,401.26 434.5,401.26 434,401.45 433.5,401.2 433,401.52 432.5,401.32 432,401.07 431.5,401.34 431,401.3 430.5,401.46 430,401.39 429.5,401.18 429,401.14 428.5,400.99 428,401.48 427.5,401.13 427,401.3 426.5,401.44 426,401.33 425.5,401.47 425,400.98 424.5,400.91 424,400.89 423.5,400.89 423,400.95 422.5,401.59 422,401.25 421.5,400.94 421,401.37 420.5,401.63 420,401.41 419.5,401.41 419,401.33 418.5,401.58 418,401.21 417.5,401.07 417,401.34 416.5,401.62 416,401.54 415.5,400.86 415,401.12 414.5,401.17 414,401.16 413.5,401.05 413,401.12 412.5,401.02 412,400.86 411.5,401.39 411,401.39 410.5,401.42 410,401.43 409.5,401.28 409,401 408.5,400.94 408,401.17 407.5,401.23 407,401.13 406.5,400.9 406,401.56 405.5,401.65 405,401.25 404.5,400.95 404,401.16 403.5,401.39 403,401.54 402.5,401.13 402,401.24 401.5,401.16 401,401.19 400.5,401.42 400,400.89 399.5,401.49 399,401.16 398.5,400.86 398,401.42 397.5,400.85 397,400.88 396.5,401.03 396,401.42 395.5,401.3 395,400.87 394.5,401.6 394,401.59 393.5,401.02 393,401.33 392.5,401.14 392,401.44 391.5,401.42 391,401.38 390.5,401.01 390,401.19 389.5,400.95 389,401.41 388.5,401.53 388,401.35 387.5,400.92 387,401.36 386.5,400.9 386,401.5 385.5,401.61 385,401.35 384.5,401.25 384,401.1 383.5,401.22 383,401.38 382.5,401.28 382,401.47 381.5,401.46 381,401.18 380.5,401.2 380,400.98 379.5,401.01 379,400.92 378.5,401 378,401.04 377.5,401.23 377,401.1 376.5,401.56 376,401.37 375.5,401.48 375,401.17 374.5,400.88 374,401.34 373.5,401.28 373,401.29 372.5,401.61 372,401.13 371.5,401.16 371,401.47 370.5,401.1 370,401.05 369.5,401.42 369,401.4 368.5,400.94 368,400.95 367.5,400.87 367,401.25 366.5,401.05 366,401.22 365.5,401.46 365,400.93 364.5,401.65 364,401.39 363.5,401.43 363,401.1 362.5,401.23 362,401.52 361.5,400.94 361,400.96 360.5,401.39 360,401.45 359.5,400.97 359,400.9 358.5,401.28 358,401.04 357.5,400.86 357,401.44 356.5,401.39 356,401.26 355.5,401.62 355,401.2 354.5,401.12 354,400.98 353.5,401.1 353,401.21 352.5,401.63 352,401.46 351.5,401.34 351,401.31 350.5,400.96 350,401.36 349.5,401.17 349,401.63 348.5,401.04 348,400.9 347.5,401.32 347,401.43 346.5,401.46 346,401.23 345.5,401.3 345,401.35 344.5,401.4 344,400.99 343.5,401.32 343,401.52 342.5,401.05 342,401.4 341.5,401.38 341,401.49 340.5,401.46 340,400.99 339.5,401.26 339,401.35 338.5,401.14 338,401 337.5,400.86 337,401.13 336.5,400.91 336,400.91 335.5,401.24 335,401.26 334.5,401.16 334,401.42 333.5,401.46 333,400.92 332.5,401.37 332,400.99 331.5,401.06 331,401.58 330.5,401.01 330,401.25 329.5,401.46 329,401.34 328.5,401.56 328,401.1 327.5,400.92 327,401.38 326.5,401.33 326,401.53 325.5,401.01 325,401.07 324.5,400.87 324,401.43 323.5,400.98 323,401.55 322.5,401.04 322,401.27 321.5,400.85 321,401.08 320.5,401.56 320,401.45 319.5,401.12 319,401.56 318.5,400.95 318,401.08 317.5,401.2 317,401.02 316.5,401.47 316,401.01 315.5,401.43 315,401.13 314.5,400.88 314,401.28 313.5,401.59 313,401 312.5,401.28 312,401.35 311.5,401.32 311,400.87 310.5,401.63 310,401.58 309.5,401.58 309,400.98 308.5,401.18 308,401.54 307.5,401.34 307,401.16 306.5,400.87 306,400.94 305.5,400.85 305,400.97 304.5,400.92 304,401.38 303.5,401.6 303,401.39 302.5,401.27 302,401.58 301.5,401.52 301,401.59 300.5,401.07 300,400.97 299.5,401.54 299,401.23 298.5,401.44 298,400.88 297.5,401.34 297,401.61 296.5,401.45 296,400.98 295.5,401.4 295,401 294.5,401.51 294,400.95 293.5,400.9 293,401.23 292.5,401.4 292,401.43 291.5,401.62 291,401.39 290.5,401.63 290,401.54 289.5,401.08 289,401.53 288.5,401.25 288,401.55 287.5,401.49 287,401.03 286.5,401.22 286,401.17 285.5,401.21 285,401.22 284.5,401.51 284,401.62 283.5,401.63 283,400.91 282.5,401.46 282,401.13 281.5,401.24 281,401.38 280.5,401.25 280,401.49 279.5,401.3 279,401.39 278.5,401.54 278,401.24 277.5,401.47 277,401.04 276.5,400.86 276,401.17 275.5,401.14 275,401.43 274.5,401.62 274,401.53 273.5,401.21 273,401.25 272.5,401.65 272,401.28 271.5,401.41 271,401.65 270.5,401.29 270,401.15 269.5,401.38 269,400.97 268.5,401.21 268,401.63 267.5,401.01 267,400.9 266.5,400.95 266,401.45 265.5,400.94 265,400.86 264.5,401.13 264,401.6 263.5,401.2 263,401.18 262.5,401.19 262,400.87 261.5,401.42 261,400.86 260.5,401.59 260,401.05 259.5,401.6 259,401.58 258.5,401.08 258,400.94 257.5,401.18 257,401.23 256.5,401.15 256,401.58 255.5,401.28 255,401.05 254.5,401.05 254,401.53 253.5,400.94 253,401.44 252.5,400.86 252,401.13 251.5,401.3 251,401.25 250.5,401.15 250,401.15 249.5,401.51 249,401.1 248.5,401.17 248,401.04 247.5,401.05 247,401.58 246.5,401.45 246,401.37 245.5,401.15 245,401.01 244.5,401.34 244,401.22 243.5,401.64 243,400.93 242.5,401.08 242,401 241.5,401.32 241,400.85 240.5,401.35 240,401.45 239.5,400.93 239,400.97 238.5,401.36 238,401.58 237.5,401.11 237,400.92 236.5,400.97 236,400.94 235.5,401.62 235,401.53 234.5,401.48 234,401.02 233.5,401.54 233,401.02 232.5,401.13 232,401.28 231.5,400.86 231,401.51 230.5,401.18 230,401.35 229.5,401.04 229,401.06 228.5,401.45 228,401.39 227.5,401.14 227,401.28 226.5,401.32 226,401.18 225.5,401.03 225,400.94 224.5,401.18 224,401.08 223.5,401.02 223,401.62 222.5,400.98 222,401.11 221.5,401.1 221,401.24 220.5,401.08 220,401.21 219.5,401.08 219,401.47 218.5,400.96 218,401.32 217.5,401.64 217,401.1 216.5,401.3 216,401.1 215.5,401.44 215,400.96 214.5,400.98 214,401.08 213.5,400.95 213,400.98 212.5,401.48 212,401.62 211.5,401.29 211,400.99 210.5,401.08 210,401.07 209.5,401.37 209,401.49 208.5,401.04 208,401.51 207.5,401.45 207,401.34 206.5,401.31 206,401.5 205.5,401.61 205,401 204.5,400.89 204,401 203.5,401.22 203,401.33 202.5,401.38 202,401.45 201.5,401.15 201,400.87 200.5,400.97 200,400.86 199.5,401.01 199,400.93 198.5,400.89 198,401.12 197.5,401.11 197,400.87 196.5,400.91 196,401.44 195.5,401.37 195,400.95 194.5,400.92 194,401.5 193.5,401.37 193,401.43 192.5,400.91 192,401.24 191.5,401.11 191,401.42 190.5,401.54 190,401.55 189.5,401.32 189,401.57 188.5,401.31 188,401.47 187.5,401.23 187,401.31 186.5,401.37 186,401.14 185.5,401.31 185,400.86 184.5,401.45 184,400.88 183.5,401.01 183,401.1 182.5,401.1 182,401.08 181.5,401.25 181,401.02 180.5,401.29 180,401.6 179.5,401.6 179,401.33 178.5,400.97 178,401.6 177.5,401 177,401.23 176.5,401.63 176,401.1 175.5,401.54 175,401.17 174.5,400.87 174,401.38 173.5,400.9 173,401.38 172.5,400.85 172,401.37 171.5,400.98 171,401.62 170.5,401.48 170,401.16 169.5,401.48 169,401.57 168.5,400.89 168,401.64 167.5,400.96 167,401.55 166.5,401.3 166,401.53 165.5,401.54 165,401.48 164.5,401.18 164,401.07 163.5,401.3 163,401.27 162.5,401.13 162,401.41 161.5,401 161,401.34 160.5,401.48 160,400.93 159.5,401.39 159,400.89 158.5,401.21 158,400.97 157.5,401.46 157,401.12 156.5,400.92 156,400.97 155.5,400.94 155,401.45 154.5,401.61 154,401.49 153.5,400.97 153,401.57 152.5,401.3 152,401.35 151.5,400.97 151,401.02 150.5,401.1 150,401.53 149.5,401.16 149,401.41 148.5,401.22 148,401.6 147.5,401.65 147,401.12 146.5,400.9 146,401.51 145.5,400.93 145,401.55 144.5,401.61 144,400.96 143.5,400.97 143,401.26 142.5,401.04 142,401.2 141.5,400.86 141,401.39 140.5,401.46 140,401.5 139.5,401.27 139,400.91 138.5,401.34 138,400.96 137.5,400.96 137,401.04 136.5,401.51 136,401.28 135.5,401.02 135,401.17 134.5,400.96 134,401.41 133.5,401.31 133,400.9 132.5,401.31 132,401.63 131.5,401.07 131,400.86 130.5,401.18 130,401.28 129.5,400.9 129,401.28 128.5,401.03 128,401.12 127.5,401.04 127,401.2 126.5,401.31 126,401.06 125.5,401.39 125,401.62 124.5,401.51 124,401.44 123.5,401.27 123,401.25 122.5,401.19 122,401.09 121.5,401.05 121,401.12 120.5,401.22 120,400.85 119.5,401.47 119,401.15 118.5,401.52 118,401.26 117.5,401.52 117,400.96 116.5,401.65 116,401.62 115.5,401.14 115,401.2 114.5,400.92 114,400.85 113.5,400.9 113,401.52 112.5,401.27 112,401.49 111.5,401.26 111,401.61 110.5,401.26 110,401.13 109.5,401.53 109,401.56 108.5,401.45 108,401.26 107.5,401.36 107,401.62 106.5,401.39 106,401.63 105.5,400.96 105,401.17 104.5,401.2 104,401.57 103.5,401.59 103,401.05 102.5,401.14 102,401.12 101.5,401.55 101,401.46 100.5,401.47 100,401.4 99.5,401.36 99,401.51 98.5,401.61 98,401.39 97.5,401.62 97,401.24 96.5,401.46 96,401.55 95.5,401.08 95,401.14 94.5,401.17 94,400.99 93.5,401.06 93,401.08 92.5,401.38 92,401.53 91.5,401.02 91,401.43 90.5,401.6 90,401.18 89.5,400.9 89,401.11 88.5,401.42 88,401.27 87.5,400.91 87,401.5 86.5,401.5 86,401.04 85.5,400.94 85,401.37 84.5,401.49 84,401.12 83.5,401.32 83,401.53 82.5,401.03 82,400.93 81.5,401.58 81,400.99 80.5,401.35 80,401.57 79.5,401.43 79,400.93 78.5,401.45 78,401.4 77.5,401.35 77,401.04 76.5,401.52 76,401.34 75.5,401.38 75,401.59 74.5,400.89 74,401.33 73.5,401.42 73,401.58 72.5,401.55 72,401.14 71.5,400.92 71,400.91 70.5,401.46 70,401.33 69.5,401.52 69,401.24 68.5,401.62 68,401.05 67.5,401.53 67,401.1 66.5,401.64 66,400.91 65.5,401.11 65,400.9 64.5,401.14 64,401.64 63.5,401.62 63,401.45 62.5,401.01 62,401.07 61.5,401.43 61,401.49 60.5,401.2 60,401.61 59.5,401.63 59,401.03 58.5,401.01 58,401.33 57.5,401.36 57,401.57 56.5,401.27 56,401.45 55.5,400.9 55,400.88 54.5,400.86 54,401.09 53.5,401.52 53,401.4 52.5,400.86 52,401.63 51.5,400.9 51,401.32 50.5,400.98 50,401.65 49.5,400.87 49,400.95 48.5,401.49 48,400.91 47.5,401.36 47,400.9 46.5,401.15 46,401.41 45.5,401.43 45,401.51 44.5,401.53 44,401.34 43.5,401.03 43,400.89 42.5,401.59 42,401.11 41.5,400.98 41,401.35 40.5,401.57 40,401.39 39.5,401.22 39,401.56 38.5,401.07 38,401.19 37.5,401.02 37,401.04 36.5,401.27 36,401.41 35.5,401.45 35,401.05 34.5,401.41 34,401.51 33.5,401.62 33,401.12 32.5,401.06 32,401.17 31.5,400.87 31,400.91 30.5,400.99 30,401.23"/>
<line x1="242.6" y1="367.2" x2="242.6" y2="435.4" stroke="#e8281e" stroke-width="1.8"/>
<line x1="263.8" y1="366" x2="263.8" y2="433.3" stroke="#e8281e" stroke-width="1.8"/>
<line x1="284" y1="365.2" x2="284" y2="434.4" stroke="#e8281e" stroke-width="1.8"/>
<line x1="304.3" y1="363.9" x2="304.3" y2="439" stroke="#e8281e" stroke-width="1.8"/>
<line x1="325" y1="367.2" x2="325" y2="434.4" stroke="#e8281e" stroke-width="1.8"/>
<rect x="42" y="383.4" width="126.2" height="46.9" fill="#fff" stroke="#686868" stroke-width="1.25"/>
<line x1="47" y1="396.2" x2="93" y2="396.2" stroke="#5aa2dd" stroke-width="1.2"/>
<line x1="47" y1="417.7" x2="93" y2="417.7" stroke="#ea5a58" stroke-width="1.2"/>
<text x="96.8" y="403.1" font-size="13.8">Receiver</text>
<text transform="translate(148.2,396.8) scale(1,0.86)" font-size="11.5">(1)</text>
<text x="96.8" y="424.8" font-size="13.8">Receiver</text>
<text transform="translate(148.2,418.5) scale(1,0.86)" font-size="11.5">(2)</text>
<rect x="29.5" y="279.5" width="502" height="160.1" fill="none" stroke="#5e5e5e" stroke-width="1.25"/>
<line x1="129.9" y1="279.5" x2="129.9" y2="285" stroke="#5e5e5e" stroke-width="1.2"/>
<line x1="129.9" y1="439.6" x2="129.9" y2="434.1" stroke="#5e5e5e" stroke-width="1.2"/>
<line x1="230.3" y1="279.5" x2="230.3" y2="285" stroke="#5e5e5e" stroke-width="1.2"/>
<line x1="230.3" y1="439.6" x2="230.3" y2="434.1" stroke="#5e5e5e" stroke-width="1.2"/>
<line x1="330.7" y1="279.5" x2="330.7" y2="285" stroke="#5e5e5e" stroke-width="1.2"/>
<line x1="330.7" y1="439.6" x2="330.7" y2="434.1" stroke="#5e5e5e" stroke-width="1.2"/>
<line x1="431.1" y1="279.5" x2="431.1" y2="285" stroke="#5e5e5e" stroke-width="1.2"/>
<line x1="431.1" y1="439.6" x2="431.1" y2="434.1" stroke="#5e5e5e" stroke-width="1.2"/>
<line x1="29.5" y1="359.55" x2="35" y2="359.55" stroke="#5e5e5e" stroke-width="1.2"/>
<line x1="531.5" y1="359.55" x2="526" y2="359.55" stroke="#5e5e5e" stroke-width="1.2"/>
<text x="26.6" y="460.1" font-size="13">0</text>
<text x="119.6" y="460.1" font-size="13">0.05</text>
<text x="222.5" y="460.1" font-size="13">0.1</text>
<text x="317.3" y="460.1" font-size="13">0.15</text>
<text x="423.6" y="460.1" font-size="13">0.2</text>
<text x="520.7" y="460.1" font-size="13">0.25</text>
<text x="82.8" y="268.5" font-size="17.2">(b) RF activities for AR-UAV at mode 3 for segment 3</text>
<text x="241.5" y="485.6" font-size="16.8">Time (sec)</text>
<text transform="translate(20,437.8) rotate(-90)" x="0" y="0" font-size="14.4">Amplitude (Normalized)</text>
<line x1="215.3" y1="24.6" x2="218.3" y2="24.6" stroke="#b8b8b8" stroke-width="0.9"/>
<line x1="419.2" y1="276.4" x2="422.4" y2="276.4" stroke="#b8b8b8" stroke-width="0.9"/>
</svg>
</body></html>
